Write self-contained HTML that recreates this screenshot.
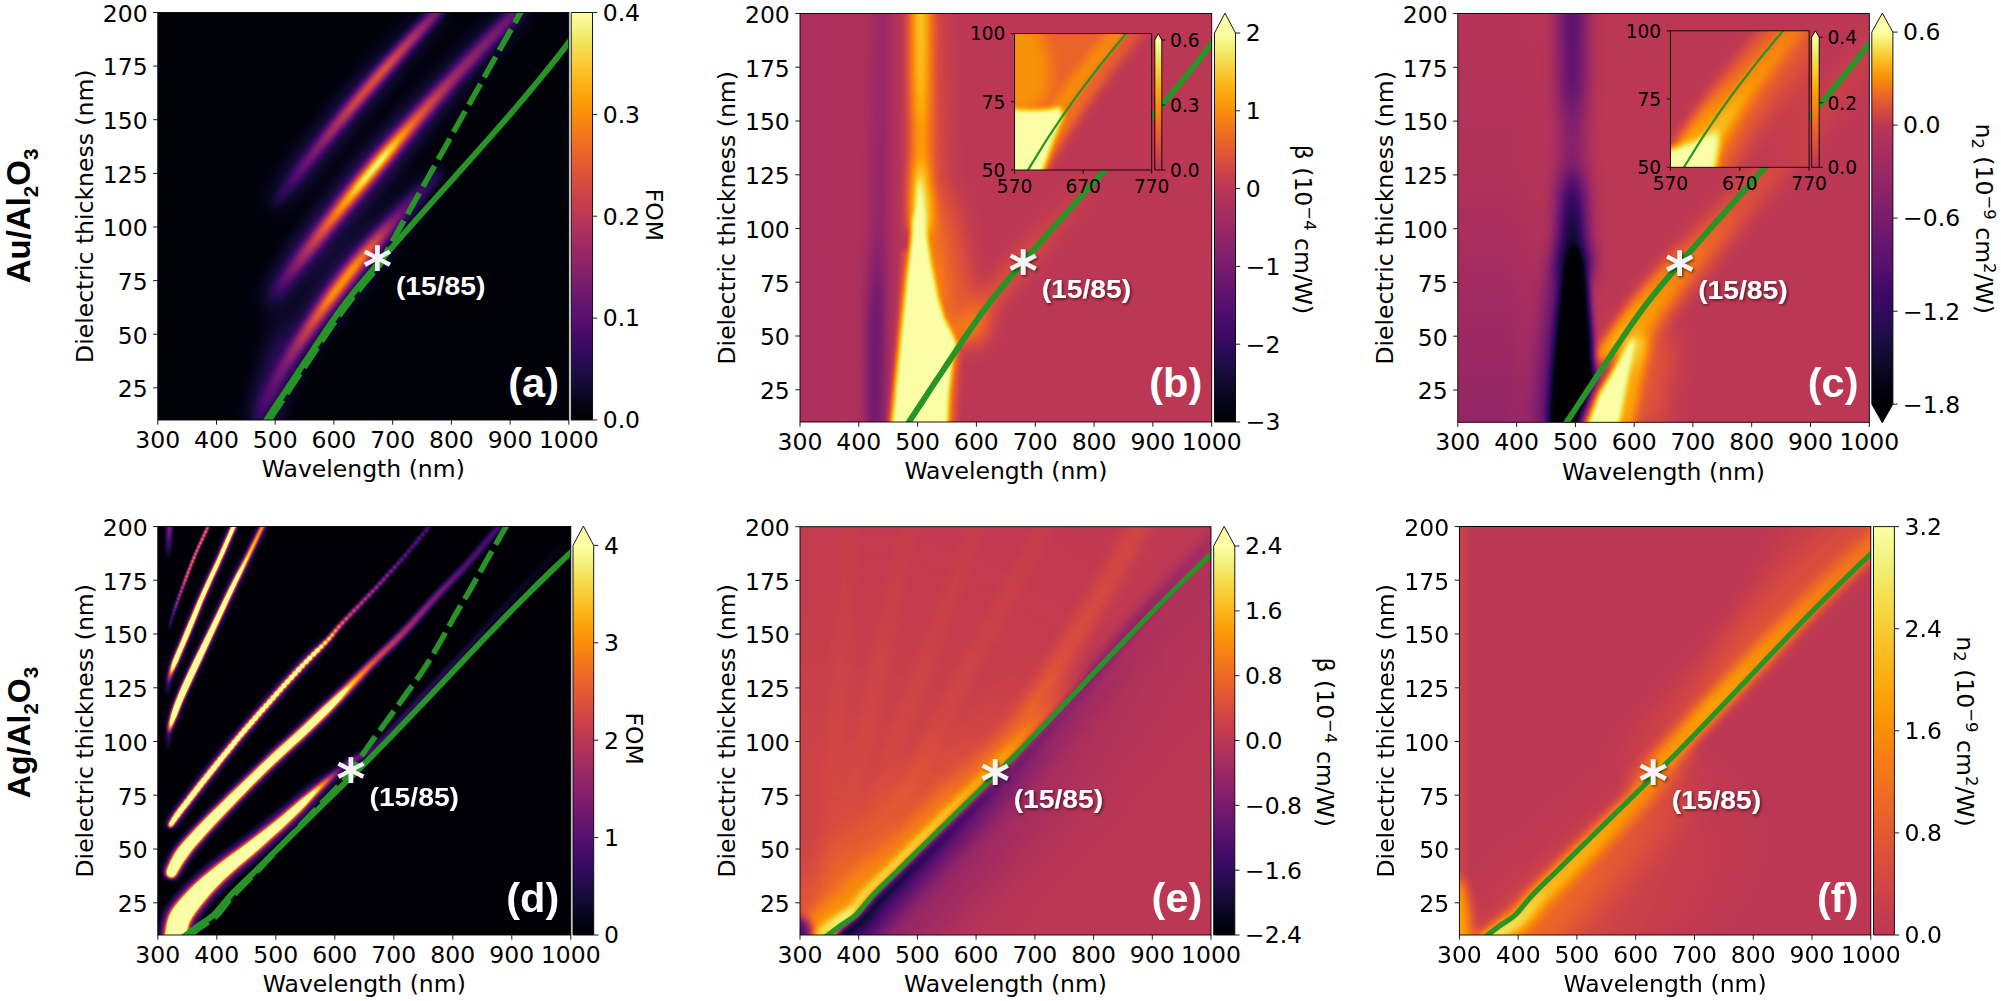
<!DOCTYPE html>
<html><head><meta charset="utf-8"><title>Figure</title>
<style>
html,body{margin:0;padding:0;background:#fff}
svg{display:block}
.t{font-family:"DejaVu Sans","Liberation Sans",sans-serif;font-size:23.5px;fill:#000}
.sup{font-size:16.5px}
.s{font-family:"DejaVu Sans","Liberation Sans",sans-serif;font-size:18.6px;fill:#000}
.b{font-family:"Liberation Sans","DejaVu Sans",sans-serif;font-weight:bold;fill:#fff}
.st{font-family:"DejaVu Sans",sans-serif;font-weight:bold;font-size:56px;fill:#f4f4f4}
.r{font-family:"Liberation Sans","DejaVu Sans",sans-serif;font-weight:bold;fill:#000}
</style></head><body>
<svg width="2001" height="1001" viewBox="0 0 2001 1001">
<defs>
<clipPath id="cla"><rect x="157.8" y="12.5" width="411.0" height="407.5"/></clipPath>
<linearGradient id="lg1" gradientUnits="userSpaceOnUse" x1="522.8" y1="5.0" x2="266.6" y2="305.0"><stop offset="0.000" stop-color="#fff" stop-opacity="0.050"/><stop offset="0.300" stop-color="#fff" stop-opacity="0.080"/><stop offset="0.550" stop-color="#fff" stop-opacity="0.140"/><stop offset="0.850" stop-color="#fff" stop-opacity="0.110"/><stop offset="1.000" stop-color="#fff" stop-opacity="0.040"/></linearGradient>
<linearGradient id="lg2" gradientUnits="userSpaceOnUse" x1="443.6" y1="5.0" x2="269.3" y2="212.0"><stop offset="0.000" stop-color="#fff" stop-opacity="0.040"/><stop offset="0.400" stop-color="#fff" stop-opacity="0.090"/><stop offset="0.800" stop-color="#fff" stop-opacity="0.080"/><stop offset="1.000" stop-color="#fff" stop-opacity="0.030"/></linearGradient>
<linearGradient id="lg3" gradientUnits="userSpaceOnUse" x1="441.8" y1="170.0" x2="251.9" y2="428.0"><stop offset="0.000" stop-color="#fff" stop-opacity="0.020"/><stop offset="0.200" stop-color="#fff" stop-opacity="0.070"/><stop offset="0.450" stop-color="#fff" stop-opacity="0.140"/><stop offset="0.700" stop-color="#fff" stop-opacity="0.080"/><stop offset="1.000" stop-color="#fff" stop-opacity="0.030"/></linearGradient>
<linearGradient id="lg4" gradientUnits="userSpaceOnUse" x1="284.0" y1="280.0" x2="268.0" y2="430.0"><stop offset="0.000" stop-color="#fff" stop-opacity="0.000"/><stop offset="0.400" stop-color="#fff" stop-opacity="0.045"/><stop offset="1.000" stop-color="#fff" stop-opacity="0.060"/></linearGradient>
<linearGradient id="lg5" gradientUnits="userSpaceOnUse" x1="522.8" y1="5.0" x2="266.6" y2="305.0"><stop offset="0.000" stop-color="#fff" stop-opacity="0.140"/><stop offset="0.250" stop-color="#fff" stop-opacity="0.240"/><stop offset="0.420" stop-color="#fff" stop-opacity="0.420"/><stop offset="0.520" stop-color="#fff" stop-opacity="0.620"/><stop offset="0.600" stop-color="#fff" stop-opacity="0.600"/><stop offset="0.720" stop-color="#fff" stop-opacity="0.420"/><stop offset="0.840" stop-color="#fff" stop-opacity="0.220"/><stop offset="0.940" stop-color="#fff" stop-opacity="0.080"/><stop offset="1.000" stop-color="#fff" stop-opacity="0.000"/></linearGradient>
<linearGradient id="lg6" gradientUnits="userSpaceOnUse" x1="443.6" y1="5.0" x2="269.3" y2="212.0"><stop offset="0.000" stop-color="#fff" stop-opacity="0.200"/><stop offset="0.200" stop-color="#fff" stop-opacity="0.360"/><stop offset="0.320" stop-color="#fff" stop-opacity="0.440"/><stop offset="0.500" stop-color="#fff" stop-opacity="0.380"/><stop offset="0.700" stop-color="#fff" stop-opacity="0.200"/><stop offset="0.860" stop-color="#fff" stop-opacity="0.100"/><stop offset="1.000" stop-color="#fff" stop-opacity="0.000"/></linearGradient>
<linearGradient id="lg7" gradientUnits="userSpaceOnUse" x1="441.8" y1="170.0" x2="251.9" y2="428.0"><stop offset="0.000" stop-color="#fff" stop-opacity="0.060"/><stop offset="0.100" stop-color="#fff" stop-opacity="0.100"/><stop offset="0.200" stop-color="#fff" stop-opacity="0.160"/><stop offset="0.300" stop-color="#fff" stop-opacity="0.320"/><stop offset="0.400" stop-color="#fff" stop-opacity="0.460"/><stop offset="0.520" stop-color="#fff" stop-opacity="0.460"/><stop offset="0.660" stop-color="#fff" stop-opacity="0.300"/><stop offset="0.800" stop-color="#fff" stop-opacity="0.120"/><stop offset="1.000" stop-color="#fff" stop-opacity="0.020"/></linearGradient>
<filter id="cma" filterUnits="userSpaceOnUse" x="156.8" y="11.5" width="413.0" height="409.5" color-interpolation-filters="sRGB"><feComponentTransfer><feFuncR type="table" tableValues="0.001 0.014 0.042 0.082 0.129 0.183 0.238 0.291 0.342 0.391 0.441 0.491 0.541 0.591 0.640 0.689 0.736 0.781 0.822 0.861 0.894 0.923 0.947 0.965 0.978 0.986 0.988 0.984 0.975 0.961 0.948 0.955 0.988 0.988 0.988 0.988 0.988 0.988 0.988 0.988 0.988 0.988 0.988 0.988 0.988 0.988 0.988 0.988 0.988 0.988 0.988 0.988 0.988 0.988 0.988 0.988 0.988 0.988 0.988 0.988 0.988 0.988 0.988 0.988 0.988"/><feFuncG type="table" tableValues="0.000 0.011 0.028 0.043 0.047 0.040 0.037 0.046 0.062 0.081 0.099 0.117 0.135 0.153 0.171 0.192 0.216 0.243 0.275 0.312 0.353 0.399 0.449 0.502 0.558 0.616 0.675 0.736 0.798 0.859 0.917 0.966 0.998 0.998 0.998 0.998 0.998 0.998 0.998 0.998 0.998 0.998 0.998 0.998 0.998 0.998 0.998 0.998 0.998 0.998 0.998 0.998 0.998 0.998 0.998 0.998 0.998 0.998 0.998 0.998 0.998 0.998 0.998 0.998 0.998"/><feFuncB type="table" tableValues="0.014 0.072 0.141 0.215 0.291 0.355 0.396 0.419 0.429 0.433 0.432 0.426 0.415 0.400 0.381 0.358 0.330 0.300 0.266 0.231 0.194 0.155 0.115 0.074 0.035 0.026 0.065 0.130 0.206 0.298 0.411 0.540 0.645 0.645 0.645 0.645 0.645 0.645 0.645 0.645 0.645 0.645 0.645 0.645 0.645 0.645 0.645 0.645 0.645 0.645 0.645 0.645 0.645 0.645 0.645 0.645 0.645 0.645 0.645 0.645 0.645 0.645 0.645 0.645 0.645"/></feComponentTransfer></filter>
<clipPath id="cpa"><rect x="157.8" y="12.5" width="411.0" height="407.5"/></clipPath>
<filter id="bla11" filterUnits="userSpaceOnUse" x="122.8" y="-22.5" width="481.0" height="477.5" color-interpolation-filters="sRGB"><feGaussianBlur stdDeviation="11"/></filter>
<filter id="bla5" filterUnits="userSpaceOnUse" x="140.8" y="-4.5" width="445.0" height="441.5" color-interpolation-filters="sRGB"><feGaussianBlur stdDeviation="5"/></filter>
<filter id="bla4_5" filterUnits="userSpaceOnUse" x="142.3" y="-3.0" width="442.0" height="438.5" color-interpolation-filters="sRGB"><feGaussianBlur stdDeviation="4.5"/></filter>
<linearGradient id="cbga" gradientUnits="userSpaceOnUse" x1="0" y1="420.0" x2="0" y2="12.5"><stop offset="0.0000" stop-color="#000004"/><stop offset="0.0417" stop-color="#050417"/><stop offset="0.0833" stop-color="#110a30"/><stop offset="0.1250" stop-color="#210c4a"/><stop offset="0.1667" stop-color="#320a5e"/><stop offset="0.2083" stop-color="#450a69"/><stop offset="0.2500" stop-color="#57106e"/><stop offset="0.2917" stop-color="#67166e"/><stop offset="0.3333" stop-color="#781c6d"/><stop offset="0.3750" stop-color="#8a226a"/><stop offset="0.4167" stop-color="#9a2865"/><stop offset="0.4583" stop-color="#ab2f5e"/><stop offset="0.5000" stop-color="#bc3754"/><stop offset="0.5417" stop-color="#ca404a"/><stop offset="0.5833" stop-color="#d84c3e"/><stop offset="0.6250" stop-color="#e45a31"/><stop offset="0.6667" stop-color="#ed6925"/><stop offset="0.7083" stop-color="#f57b17"/><stop offset="0.7500" stop-color="#f98e09"/><stop offset="0.7917" stop-color="#fca108"/><stop offset="0.8333" stop-color="#fbb61a"/><stop offset="0.8750" stop-color="#f9cb35"/><stop offset="0.9167" stop-color="#f4df53"/><stop offset="0.9583" stop-color="#f2f27d"/><stop offset="1.0000" stop-color="#fcffa4"/></linearGradient>
<clipPath id="clb"><rect x="800.0" y="13.5" width="411.7" height="408.5"/></clipPath>
<linearGradient id="lg8" gradientUnits="userSpaceOnUse" x1="800.0" y1="0.0" x2="935.0" y2="0.0"><stop offset="0.000" stop-color="#000" stop-opacity="0.080"/><stop offset="0.500" stop-color="#000" stop-opacity="0.070"/><stop offset="1.000" stop-color="#000" stop-opacity="0.000"/></linearGradient>
<linearGradient id="lg9" gradientUnits="userSpaceOnUse" x1="882.4" y1="0.0" x2="875.0" y2="440.0"><stop offset="0.000" stop-color="#000" stop-opacity="0.160"/><stop offset="0.500" stop-color="#000" stop-opacity="0.200"/><stop offset="0.720" stop-color="#000" stop-opacity="0.500"/><stop offset="0.900" stop-color="#000" stop-opacity="0.500"/><stop offset="1.000" stop-color="#000" stop-opacity="0.400"/></linearGradient>
<linearGradient id="lg10" gradientUnits="userSpaceOnUse" x1="933.0" y1="0.0" x2="935.0" y2="300.0"><stop offset="0.000" stop-color="#fff" stop-opacity="0.130"/><stop offset="0.500" stop-color="#fff" stop-opacity="0.170"/><stop offset="1.000" stop-color="#fff" stop-opacity="0.200"/></linearGradient>
<linearGradient id="lg11" gradientUnits="userSpaceOnUse" x1="920.5" y1="0.0" x2="920.5" y2="230.0"><stop offset="0.000" stop-color="#fff" stop-opacity="0.820"/><stop offset="0.300" stop-color="#fff" stop-opacity="0.780"/><stop offset="0.450" stop-color="#fff" stop-opacity="0.700"/><stop offset="0.580" stop-color="#fff" stop-opacity="0.600"/><stop offset="0.680" stop-color="#fff" stop-opacity="0.620"/><stop offset="0.780" stop-color="#fff" stop-opacity="0.900"/><stop offset="1.000" stop-color="#fff" stop-opacity="1.000"/></linearGradient>
<linearGradient id="lg12" gradientUnits="userSpaceOnUse" x1="942.0" y1="190.0" x2="977.6" y2="343.2"><stop offset="0.000" stop-color="#fff" stop-opacity="0.100"/><stop offset="0.300" stop-color="#fff" stop-opacity="0.220"/><stop offset="1.000" stop-color="#fff" stop-opacity="0.300"/></linearGradient>
<linearGradient id="lg13" gradientUnits="userSpaceOnUse" x1="963.8" y1="336.0" x2="1098.6" y2="174.8"><stop offset="0.000" stop-color="#fff" stop-opacity="0.300"/><stop offset="0.400" stop-color="#fff" stop-opacity="0.200"/><stop offset="0.700" stop-color="#fff" stop-opacity="0.100"/><stop offset="1.000" stop-color="#fff" stop-opacity="0.030"/></linearGradient>
<filter id="cmb" filterUnits="userSpaceOnUse" x="799.0" y="12.5" width="413.7" height="410.5" color-interpolation-filters="sRGB"><feComponentTransfer><feFuncR type="table" tableValues="0.001 0.006 0.014 0.026 0.042 0.061 0.082 0.105 0.129 0.156 0.183 0.211 0.238 0.265 0.291 0.316 0.342 0.367 0.391 0.416 0.441 0.466 0.491 0.516 0.541 0.566 0.591 0.616 0.640 0.665 0.689 0.712 0.736 0.758 0.781 0.802 0.822 0.842 0.861 0.878 0.894 0.909 0.923 0.936 0.947 0.957 0.965 0.973 0.978 0.983 0.986 0.988 0.988 0.987 0.984 0.980 0.975 0.968 0.961 0.953 0.948 0.947 0.955 0.971 0.988"/><feFuncG type="table" tableValues="0.000 0.005 0.011 0.019 0.028 0.037 0.043 0.047 0.047 0.045 0.040 0.037 0.037 0.040 0.046 0.053 0.062 0.072 0.081 0.090 0.099 0.108 0.117 0.126 0.135 0.144 0.153 0.162 0.171 0.182 0.192 0.204 0.216 0.229 0.243 0.259 0.275 0.293 0.312 0.332 0.353 0.376 0.399 0.424 0.449 0.475 0.502 0.530 0.558 0.587 0.616 0.645 0.675 0.706 0.736 0.767 0.798 0.829 0.859 0.889 0.917 0.943 0.966 0.985 0.998"/><feFuncB type="table" tableValues="0.014 0.039 0.072 0.106 0.141 0.178 0.215 0.253 0.291 0.325 0.355 0.379 0.396 0.409 0.419 0.425 0.429 0.432 0.433 0.433 0.432 0.429 0.426 0.421 0.415 0.408 0.400 0.391 0.381 0.370 0.358 0.344 0.330 0.315 0.300 0.283 0.266 0.249 0.231 0.212 0.194 0.175 0.155 0.135 0.115 0.095 0.074 0.053 0.035 0.025 0.026 0.040 0.065 0.096 0.130 0.166 0.206 0.250 0.298 0.351 0.411 0.475 0.540 0.602 0.645"/></feComponentTransfer></filter>
<clipPath id="cpb"><rect x="800.0" y="13.5" width="411.7" height="408.5"/></clipPath>
<filter id="blb7" filterUnits="userSpaceOnUse" x="777.0" y="-9.5" width="457.7" height="454.5" color-interpolation-filters="sRGB"><feGaussianBlur stdDeviation="7"/></filter>
<filter id="blb10" filterUnits="userSpaceOnUse" x="768.0" y="-18.5" width="475.7" height="472.5" color-interpolation-filters="sRGB"><feGaussianBlur stdDeviation="10"/></filter>
<filter id="blb6_5" filterUnits="userSpaceOnUse" x="778.5" y="-8.0" width="454.7" height="451.5" color-interpolation-filters="sRGB"><feGaussianBlur stdDeviation="6.5"/></filter>
<filter id="blb11" filterUnits="userSpaceOnUse" x="765.0" y="-21.5" width="481.7" height="478.5" color-interpolation-filters="sRGB"><feGaussianBlur stdDeviation="11"/></filter>
<filter id="blb9" filterUnits="userSpaceOnUse" x="771.0" y="-15.5" width="469.7" height="466.5" color-interpolation-filters="sRGB"><feGaussianBlur stdDeviation="9"/></filter>
<filter id="blb4" filterUnits="userSpaceOnUse" x="786.0" y="-0.5" width="439.7" height="436.5" color-interpolation-filters="sRGB"><feGaussianBlur stdDeviation="4"/></filter>
<filter id="blb2_5" filterUnits="userSpaceOnUse" x="790.5" y="4.0" width="430.7" height="427.5" color-interpolation-filters="sRGB"><feGaussianBlur stdDeviation="2.5"/></filter>
<filter id="blb2_2" filterUnits="userSpaceOnUse" x="791.4" y="4.9" width="428.9" height="425.7" color-interpolation-filters="sRGB"><feGaussianBlur stdDeviation="2.2"/></filter>
<linearGradient id="cbgb" gradientUnits="userSpaceOnUse" x1="0" y1="422.0" x2="0" y2="33.0"><stop offset="0.0000" stop-color="#000004"/><stop offset="0.0429" stop-color="#040314"/><stop offset="0.0857" stop-color="#0d0829"/><stop offset="0.1286" stop-color="#190c3e"/><stop offset="0.1714" stop-color="#280b53"/><stop offset="0.2143" stop-color="#380962"/><stop offset="0.2571" stop-color="#470b6a"/><stop offset="0.3000" stop-color="#57106e"/><stop offset="0.3429" stop-color="#65156e"/><stop offset="0.3857" stop-color="#741a6e"/><stop offset="0.4286" stop-color="#82206c"/><stop offset="0.4714" stop-color="#902568"/><stop offset="0.5143" stop-color="#9f2a63"/><stop offset="0.5571" stop-color="#ad305d"/><stop offset="0.6000" stop-color="#bc3754"/><stop offset="0.6000" stop-color="#bc3754"/><stop offset="0.6400" stop-color="#cc4248"/><stop offset="0.6800" stop-color="#dd513a"/><stop offset="0.7200" stop-color="#ea632a"/><stop offset="0.7600" stop-color="#f37819"/><stop offset="0.8000" stop-color="#f98e09"/><stop offset="0.8400" stop-color="#fca50a"/><stop offset="0.8800" stop-color="#fbbe23"/><stop offset="0.9200" stop-color="#f6d746"/><stop offset="0.9600" stop-color="#f1ef75"/><stop offset="1.0000" stop-color="#fcffa4"/></linearGradient>
<clipPath id="clc"><rect x="1457.8" y="13.5" width="411.5" height="408.8"/></clipPath>
<linearGradient id="lg14" gradientUnits="userSpaceOnUse" x1="0.0" y1="13.5" x2="0.0" y2="422.3"><stop offset="0.000" stop-color="#000" stop-opacity="0.030"/><stop offset="0.400" stop-color="#000" stop-opacity="0.060"/><stop offset="0.700" stop-color="#000" stop-opacity="0.140"/><stop offset="1.000" stop-color="#000" stop-opacity="0.200"/></linearGradient>
<linearGradient id="lg15" gradientUnits="userSpaceOnUse" x1="1507.8" y1="0.0" x2="1582.8" y2="0.0"><stop offset="0.000" stop-color="#808080" stop-opacity="0.000"/><stop offset="1.000" stop-color="#808080" stop-opacity="1.000"/></linearGradient>
<linearGradient id="lg16" gradientUnits="userSpaceOnUse" x1="1572.5" y1="0.0" x2="1572.5" y2="280.0"><stop offset="0.000" stop-color="#000" stop-opacity="0.560"/><stop offset="0.300" stop-color="#000" stop-opacity="0.520"/><stop offset="0.450" stop-color="#000" stop-opacity="0.320"/><stop offset="0.580" stop-color="#000" stop-opacity="0.300"/><stop offset="0.680" stop-color="#000" stop-opacity="0.700"/><stop offset="0.800" stop-color="#000" stop-opacity="0.950"/><stop offset="1.000" stop-color="#000" stop-opacity="1.000"/></linearGradient>
<linearGradient id="lg17" gradientUnits="userSpaceOnUse" x1="1616.3" y1="359.8" x2="1894.1" y2="15.5"><stop offset="0.000" stop-color="#fff" stop-opacity="0.750"/><stop offset="0.180" stop-color="#fff" stop-opacity="0.600"/><stop offset="0.300" stop-color="#fff" stop-opacity="0.420"/><stop offset="0.450" stop-color="#fff" stop-opacity="0.220"/><stop offset="0.700" stop-color="#fff" stop-opacity="0.100"/><stop offset="1.000" stop-color="#fff" stop-opacity="0.040"/></linearGradient>
<linearGradient id="lg18" gradientUnits="userSpaceOnUse" x1="1599.5" y1="359.1" x2="1684.4" y2="247.2"><stop offset="0.000" stop-color="#fff" stop-opacity="0.600"/><stop offset="0.500" stop-color="#fff" stop-opacity="0.340"/><stop offset="1.000" stop-color="#fff" stop-opacity="0.080"/></linearGradient>
<filter id="cmc" filterUnits="userSpaceOnUse" x="1456.8" y="12.5" width="413.5" height="410.8" color-interpolation-filters="sRGB"><feComponentTransfer><feFuncR type="table" tableValues="0.001 0.006 0.014 0.026 0.042 0.061 0.082 0.105 0.129 0.156 0.183 0.211 0.238 0.265 0.291 0.316 0.342 0.367 0.391 0.416 0.441 0.466 0.491 0.516 0.541 0.566 0.591 0.616 0.640 0.665 0.689 0.712 0.736 0.758 0.781 0.802 0.822 0.842 0.861 0.878 0.894 0.909 0.923 0.936 0.947 0.957 0.965 0.973 0.978 0.983 0.986 0.988 0.988 0.987 0.984 0.980 0.975 0.968 0.961 0.953 0.948 0.947 0.955 0.971 0.988"/><feFuncG type="table" tableValues="0.000 0.005 0.011 0.019 0.028 0.037 0.043 0.047 0.047 0.045 0.040 0.037 0.037 0.040 0.046 0.053 0.062 0.072 0.081 0.090 0.099 0.108 0.117 0.126 0.135 0.144 0.153 0.162 0.171 0.182 0.192 0.204 0.216 0.229 0.243 0.259 0.275 0.293 0.312 0.332 0.353 0.376 0.399 0.424 0.449 0.475 0.502 0.530 0.558 0.587 0.616 0.645 0.675 0.706 0.736 0.767 0.798 0.829 0.859 0.889 0.917 0.943 0.966 0.985 0.998"/><feFuncB type="table" tableValues="0.014 0.039 0.072 0.106 0.141 0.178 0.215 0.253 0.291 0.325 0.355 0.379 0.396 0.409 0.419 0.425 0.429 0.432 0.433 0.433 0.432 0.429 0.426 0.421 0.415 0.408 0.400 0.391 0.381 0.370 0.358 0.344 0.330 0.315 0.300 0.283 0.266 0.249 0.231 0.212 0.194 0.175 0.155 0.135 0.115 0.095 0.074 0.053 0.035 0.025 0.026 0.040 0.065 0.096 0.130 0.166 0.206 0.250 0.298 0.351 0.411 0.475 0.540 0.602 0.645"/></feComponentTransfer></filter>
<clipPath id="cpc"><rect x="1457.8" y="13.5" width="411.5" height="408.8"/></clipPath>
<filter id="blc9" filterUnits="userSpaceOnUse" x="1428.8" y="-15.5" width="469.5" height="466.8" color-interpolation-filters="sRGB"><feGaussianBlur stdDeviation="9"/></filter>
<filter id="blc10" filterUnits="userSpaceOnUse" x="1425.8" y="-18.5" width="475.5" height="472.8" color-interpolation-filters="sRGB"><feGaussianBlur stdDeviation="10"/></filter>
<filter id="blc5" filterUnits="userSpaceOnUse" x="1440.8" y="-3.5" width="445.5" height="442.8" color-interpolation-filters="sRGB"><feGaussianBlur stdDeviation="5"/></filter>
<filter id="blc6" filterUnits="userSpaceOnUse" x="1437.8" y="-6.5" width="451.5" height="448.8" color-interpolation-filters="sRGB"><feGaussianBlur stdDeviation="6"/></filter>
<filter id="blc14" filterUnits="userSpaceOnUse" x="1413.8" y="-30.5" width="499.5" height="496.8" color-interpolation-filters="sRGB"><feGaussianBlur stdDeviation="14"/></filter>
<filter id="blc3" filterUnits="userSpaceOnUse" x="1446.8" y="2.5" width="433.5" height="430.8" color-interpolation-filters="sRGB"><feGaussianBlur stdDeviation="3"/></filter>
<filter id="blc2_5" filterUnits="userSpaceOnUse" x="1448.3" y="4.0" width="430.5" height="427.8" color-interpolation-filters="sRGB"><feGaussianBlur stdDeviation="2.5"/></filter>
<linearGradient id="cbgc" gradientUnits="userSpaceOnUse" x1="0" y1="404.2" x2="0" y2="32.1"><stop offset="0.0000" stop-color="#000004"/><stop offset="0.0417" stop-color="#030210"/><stop offset="0.0833" stop-color="#09061f"/><stop offset="0.1250" stop-color="#110a30"/><stop offset="0.1667" stop-color="#1b0c41"/><stop offset="0.2083" stop-color="#260c51"/><stop offset="0.2500" stop-color="#320a5e"/><stop offset="0.2917" stop-color="#3e0966"/><stop offset="0.3333" stop-color="#4a0c6b"/><stop offset="0.3750" stop-color="#57106e"/><stop offset="0.4167" stop-color="#62146e"/><stop offset="0.4583" stop-color="#6d186e"/><stop offset="0.5000" stop-color="#781c6d"/><stop offset="0.5417" stop-color="#84206b"/><stop offset="0.5833" stop-color="#8f2469"/><stop offset="0.6250" stop-color="#9a2865"/><stop offset="0.6667" stop-color="#a52c60"/><stop offset="0.7083" stop-color="#b0315b"/><stop offset="0.7500" stop-color="#bc3754"/><stop offset="0.7500" stop-color="#bc3754"/><stop offset="0.7917" stop-color="#d84c3e"/><stop offset="0.8333" stop-color="#ed6925"/><stop offset="0.8750" stop-color="#f98e09"/><stop offset="0.9167" stop-color="#fbb61a"/><stop offset="0.9583" stop-color="#f4df53"/><stop offset="1.0000" stop-color="#fcffa4"/></linearGradient>
<clipPath id="cld"><rect x="157.8" y="526.5" width="413.0" height="408.5"/></clipPath>
<linearGradient id="lg19" gradientUnits="userSpaceOnUse" x1="235.0" y1="524.0" x2="168.0" y2="684.8"><stop offset="0.000" stop-color="#fff" stop-opacity="0.160"/><stop offset="0.850" stop-color="#fff" stop-opacity="0.180"/><stop offset="1.000" stop-color="#fff" stop-opacity="0.020"/></linearGradient>
<linearGradient id="lg20" gradientUnits="userSpaceOnUse" x1="263.7" y1="524.0" x2="168.8" y2="732.7"><stop offset="0.000" stop-color="#fff" stop-opacity="0.100"/><stop offset="0.300" stop-color="#fff" stop-opacity="0.180"/><stop offset="0.900" stop-color="#fff" stop-opacity="0.200"/><stop offset="1.000" stop-color="#fff" stop-opacity="0.030"/></linearGradient>
<linearGradient id="lg21" gradientUnits="userSpaceOnUse" x1="431.5" y1="524.0" x2="169.6" y2="826.4"><stop offset="0.000" stop-color="#fff" stop-opacity="0.000"/><stop offset="0.360" stop-color="#fff" stop-opacity="0.030"/><stop offset="0.450" stop-color="#fff" stop-opacity="0.200"/><stop offset="1.000" stop-color="#fff" stop-opacity="0.220"/></linearGradient>
<linearGradient id="lg22" gradientUnits="userSpaceOnUse" x1="499.7" y1="526.0" x2="169.6" y2="875.9"><stop offset="0.000" stop-color="#fff" stop-opacity="0.000"/><stop offset="0.400" stop-color="#fff" stop-opacity="0.030"/><stop offset="0.550" stop-color="#fff" stop-opacity="0.260"/><stop offset="1.000" stop-color="#fff" stop-opacity="0.280"/></linearGradient>
<linearGradient id="lg23" gradientUnits="userSpaceOnUse" x1="345.0" y1="765.0" x2="174.0" y2="946.0"><stop offset="0.000" stop-color="#fff" stop-opacity="0.000"/><stop offset="0.100" stop-color="#fff" stop-opacity="0.120"/><stop offset="0.250" stop-color="#fff" stop-opacity="0.260"/><stop offset="1.000" stop-color="#fff" stop-opacity="0.280"/></linearGradient>
<linearGradient id="lg24" gradientUnits="userSpaceOnUse" x1="169.6" y1="525.0" x2="167.8" y2="562.0"><stop offset="0.000" stop-color="#fff" stop-opacity="0.400"/><stop offset="1.000" stop-color="#fff" stop-opacity="0.000"/></linearGradient>
<linearGradient id="lg25" gradientUnits="userSpaceOnUse" x1="168.8" y1="732.7" x2="168.0" y2="752.0"><stop offset="0.000" stop-color="#fff" stop-opacity="0.250"/><stop offset="1.000" stop-color="#fff" stop-opacity="0.000"/></linearGradient>
<linearGradient id="lg26" gradientUnits="userSpaceOnUse" x1="168.0" y1="684.0" x2="167.5" y2="700.0"><stop offset="0.000" stop-color="#fff" stop-opacity="0.200"/><stop offset="1.000" stop-color="#fff" stop-opacity="0.000"/></linearGradient>
<linearGradient id="lg27" gradientUnits="userSpaceOnUse" x1="345.0" y1="765.0" x2="560.0" y2="548.0"><stop offset="0.000" stop-color="#fff" stop-opacity="0.280"/><stop offset="0.120" stop-color="#fff" stop-opacity="0.140"/><stop offset="0.500" stop-color="#fff" stop-opacity="0.080"/><stop offset="1.000" stop-color="#fff" stop-opacity="0.030"/></linearGradient>
<linearGradient id="lg28" gradientUnits="userSpaceOnUse" x1="499.7" y1="526.0" x2="305.5" y2="729.5"><stop offset="0.000" stop-color="#fff" stop-opacity="0.070"/><stop offset="0.300" stop-color="#fff" stop-opacity="0.090"/><stop offset="0.600" stop-color="#fff" stop-opacity="0.130"/><stop offset="0.850" stop-color="#fff" stop-opacity="0.150"/><stop offset="1.000" stop-color="#fff" stop-opacity="0.000"/></linearGradient>
<linearGradient id="lg29" gradientUnits="userSpaceOnUse" x1="209.0" y1="524.0" x2="168.6" y2="630.3"><stop offset="0.000" stop-color="#fff" stop-opacity="0.850"/><stop offset="0.500" stop-color="#fff" stop-opacity="0.800"/><stop offset="0.800" stop-color="#fff" stop-opacity="0.400"/><stop offset="1.000" stop-color="#fff" stop-opacity="0.080"/></linearGradient>
<linearGradient id="lg30" gradientUnits="userSpaceOnUse" x1="235.0" y1="524.0" x2="168.0" y2="684.8"><stop offset="0.000" stop-color="#fff" stop-opacity="1.000"/><stop offset="0.860" stop-color="#fff" stop-opacity="1.000"/><stop offset="0.940" stop-color="#fff" stop-opacity="0.400"/><stop offset="1.000" stop-color="#fff" stop-opacity="0.120"/></linearGradient>
<linearGradient id="lg31" gradientUnits="userSpaceOnUse" x1="263.7" y1="524.0" x2="168.8" y2="732.7"><stop offset="0.000" stop-color="#fff" stop-opacity="0.500"/><stop offset="0.150" stop-color="#fff" stop-opacity="0.600"/><stop offset="0.300" stop-color="#fff" stop-opacity="1.000"/><stop offset="0.920" stop-color="#fff" stop-opacity="1.000"/><stop offset="1.000" stop-color="#fff" stop-opacity="0.250"/></linearGradient>
<linearGradient id="lg32" gradientUnits="userSpaceOnUse" x1="431.5" y1="524.0" x2="169.6" y2="826.4"><stop offset="0.000" stop-color="#fff" stop-opacity="0.200"/><stop offset="0.120" stop-color="#fff" stop-opacity="0.240"/><stop offset="0.220" stop-color="#fff" stop-opacity="0.340"/><stop offset="0.300" stop-color="#fff" stop-opacity="0.450"/><stop offset="0.360" stop-color="#fff" stop-opacity="0.620"/><stop offset="0.430" stop-color="#fff" stop-opacity="1.000"/><stop offset="1.000" stop-color="#fff" stop-opacity="1.000"/></linearGradient>
<linearGradient id="lg33" gradientUnits="userSpaceOnUse" x1="499.7" y1="526.0" x2="169.6" y2="875.9"><stop offset="0.000" stop-color="#fff" stop-opacity="0.080"/><stop offset="0.120" stop-color="#fff" stop-opacity="0.100"/><stop offset="0.220" stop-color="#fff" stop-opacity="0.140"/><stop offset="0.300" stop-color="#fff" stop-opacity="0.200"/><stop offset="0.380" stop-color="#fff" stop-opacity="0.280"/><stop offset="0.460" stop-color="#fff" stop-opacity="0.450"/><stop offset="0.530" stop-color="#fff" stop-opacity="1.000"/><stop offset="1.000" stop-color="#fff" stop-opacity="1.000"/></linearGradient>
<linearGradient id="lg34" gradientUnits="userSpaceOnUse" x1="345.0" y1="765.0" x2="174.0" y2="946.0"><stop offset="0.000" stop-color="#fff" stop-opacity="0.220"/><stop offset="0.060" stop-color="#fff" stop-opacity="0.400"/><stop offset="0.130" stop-color="#fff" stop-opacity="0.620"/><stop offset="0.220" stop-color="#fff" stop-opacity="1.000"/><stop offset="1.000" stop-color="#fff" stop-opacity="1.000"/></linearGradient>
<linearGradient id="lg35" gradientUnits="userSpaceOnUse" x1="431.5" y1="524.0" x2="169.6" y2="826.4"><stop offset="0.000" stop-color="#000" stop-opacity="0.700"/><stop offset="0.600" stop-color="#000" stop-opacity="0.600"/><stop offset="0.850" stop-color="#000" stop-opacity="0.450"/><stop offset="1.000" stop-color="#000" stop-opacity="0.300"/></linearGradient>
<filter id="cmd" filterUnits="userSpaceOnUse" x="156.8" y="525.5" width="415.0" height="410.5" color-interpolation-filters="sRGB"><feComponentTransfer><feFuncR type="table" tableValues="0.001 0.014 0.042 0.082 0.129 0.183 0.238 0.291 0.342 0.391 0.441 0.491 0.541 0.591 0.640 0.689 0.736 0.781 0.822 0.861 0.894 0.923 0.947 0.965 0.978 0.986 0.988 0.984 0.975 0.961 0.948 0.955 0.988 0.988 0.988 0.988 0.988 0.988 0.988 0.988 0.988 0.988 0.988 0.988 0.988 0.988 0.988 0.988 0.988 0.988 0.988 0.988 0.988 0.988 0.988 0.988 0.988 0.988 0.988 0.988 0.988 0.988 0.988 0.988 0.988"/><feFuncG type="table" tableValues="0.000 0.011 0.028 0.043 0.047 0.040 0.037 0.046 0.062 0.081 0.099 0.117 0.135 0.153 0.171 0.192 0.216 0.243 0.275 0.312 0.353 0.399 0.449 0.502 0.558 0.616 0.675 0.736 0.798 0.859 0.917 0.966 0.998 0.998 0.998 0.998 0.998 0.998 0.998 0.998 0.998 0.998 0.998 0.998 0.998 0.998 0.998 0.998 0.998 0.998 0.998 0.998 0.998 0.998 0.998 0.998 0.998 0.998 0.998 0.998 0.998 0.998 0.998 0.998 0.998"/><feFuncB type="table" tableValues="0.014 0.072 0.141 0.215 0.291 0.355 0.396 0.419 0.429 0.433 0.432 0.426 0.415 0.400 0.381 0.358 0.330 0.300 0.266 0.231 0.194 0.155 0.115 0.074 0.035 0.026 0.065 0.130 0.206 0.298 0.411 0.540 0.645 0.645 0.645 0.645 0.645 0.645 0.645 0.645 0.645 0.645 0.645 0.645 0.645 0.645 0.645 0.645 0.645 0.645 0.645 0.645 0.645 0.645 0.645 0.645 0.645 0.645 0.645 0.645 0.645 0.645 0.645 0.645 0.645"/></feComponentTransfer></filter>
<clipPath id="cpd"><rect x="157.8" y="526.5" width="413.0" height="408.5"/></clipPath>
<filter id="bld3" filterUnits="userSpaceOnUse" x="146.8" y="515.5" width="435.0" height="430.5" color-interpolation-filters="sRGB"><feGaussianBlur stdDeviation="3"/></filter>
<filter id="bld3_5" filterUnits="userSpaceOnUse" x="145.3" y="514.0" width="438.0" height="433.5" color-interpolation-filters="sRGB"><feGaussianBlur stdDeviation="3.5"/></filter>
<filter id="bld4_5" filterUnits="userSpaceOnUse" x="142.3" y="511.0" width="444.0" height="439.5" color-interpolation-filters="sRGB"><feGaussianBlur stdDeviation="4.5"/></filter>
<filter id="bld2" filterUnits="userSpaceOnUse" x="149.8" y="518.5" width="429.0" height="424.5" color-interpolation-filters="sRGB"><feGaussianBlur stdDeviation="2"/></filter>
<filter id="bld2_6" filterUnits="userSpaceOnUse" x="148.0" y="516.7" width="432.6" height="428.1" color-interpolation-filters="sRGB"><feGaussianBlur stdDeviation="2.6"/></filter>
<filter id="bld2_8" filterUnits="userSpaceOnUse" x="147.4" y="516.1" width="433.8" height="429.3" color-interpolation-filters="sRGB"><feGaussianBlur stdDeviation="2.8"/></filter>
<filter id="bld0_9" filterUnits="userSpaceOnUse" x="153.1" y="521.8" width="422.4" height="417.9" color-interpolation-filters="sRGB"><feGaussianBlur stdDeviation="0.9"/></filter>
<filter id="bld1_6" filterUnits="userSpaceOnUse" x="151.0" y="519.7" width="426.6" height="422.1" color-interpolation-filters="sRGB"><feGaussianBlur stdDeviation="1.6"/></filter>
<filter id="bld1_7" filterUnits="userSpaceOnUse" x="150.7" y="519.4" width="427.2" height="422.7" color-interpolation-filters="sRGB"><feGaussianBlur stdDeviation="1.7"/></filter>
<filter id="bld1_5" filterUnits="userSpaceOnUse" x="151.3" y="520.0" width="426.0" height="421.5" color-interpolation-filters="sRGB"><feGaussianBlur stdDeviation="1.5"/></filter>
<filter id="bld2_0" filterUnits="userSpaceOnUse" x="149.8" y="518.5" width="429.0" height="424.5" color-interpolation-filters="sRGB"><feGaussianBlur stdDeviation="2.0"/></filter>
<filter id="bld0_8" filterUnits="userSpaceOnUse" x="153.4" y="522.1" width="421.8" height="417.3" color-interpolation-filters="sRGB"><feGaussianBlur stdDeviation="0.8"/></filter>
<linearGradient id="cbgd" gradientUnits="userSpaceOnUse" x1="0" y1="935.0" x2="0" y2="545.4"><stop offset="0.0000" stop-color="#000004"/><stop offset="0.0417" stop-color="#050417"/><stop offset="0.0833" stop-color="#110a30"/><stop offset="0.1250" stop-color="#210c4a"/><stop offset="0.1667" stop-color="#320a5e"/><stop offset="0.2083" stop-color="#450a69"/><stop offset="0.2500" stop-color="#57106e"/><stop offset="0.2917" stop-color="#67166e"/><stop offset="0.3333" stop-color="#781c6d"/><stop offset="0.3750" stop-color="#8a226a"/><stop offset="0.4167" stop-color="#9a2865"/><stop offset="0.4583" stop-color="#ab2f5e"/><stop offset="0.5000" stop-color="#bc3754"/><stop offset="0.5417" stop-color="#ca404a"/><stop offset="0.5833" stop-color="#d84c3e"/><stop offset="0.6250" stop-color="#e45a31"/><stop offset="0.6667" stop-color="#ed6925"/><stop offset="0.7083" stop-color="#f57b17"/><stop offset="0.7500" stop-color="#f98e09"/><stop offset="0.7917" stop-color="#fca108"/><stop offset="0.8333" stop-color="#fbb61a"/><stop offset="0.8750" stop-color="#f9cb35"/><stop offset="0.9167" stop-color="#f4df53"/><stop offset="0.9583" stop-color="#f2f27d"/><stop offset="1.0000" stop-color="#fcffa4"/></linearGradient>
<clipPath id="cle"><rect x="800.0" y="526.7" width="411.0" height="408.3"/></clipPath>
<radialGradient id="rg36" gradientUnits="userSpaceOnUse" cx="822.0" cy="943.0" r="520.0"><stop offset="0.000" stop-color="#fff" stop-opacity="0.120"/><stop offset="0.350" stop-color="#fff" stop-opacity="0.100"/><stop offset="0.650" stop-color="#fff" stop-opacity="0.050"/><stop offset="1.000" stop-color="#fff" stop-opacity="0.020"/></radialGradient>
<linearGradient id="lg37" gradientUnits="userSpaceOnUse" x1="822.0" y1="943.0" x2="852.0" y2="516.7"><stop offset="0.000" stop-color="#fff" stop-opacity="0.000"/><stop offset="0.150" stop-color="#fff" stop-opacity="0.065"/><stop offset="0.600" stop-color="#fff" stop-opacity="0.050"/><stop offset="1.000" stop-color="#fff" stop-opacity="0.030"/></linearGradient>
<linearGradient id="lg38" gradientUnits="userSpaceOnUse" x1="822.0" y1="943.0" x2="910.0" y2="516.7"><stop offset="0.000" stop-color="#fff" stop-opacity="0.000"/><stop offset="0.150" stop-color="#fff" stop-opacity="0.078"/><stop offset="0.600" stop-color="#fff" stop-opacity="0.060"/><stop offset="1.000" stop-color="#fff" stop-opacity="0.036"/></linearGradient>
<linearGradient id="lg39" gradientUnits="userSpaceOnUse" x1="822.0" y1="943.0" x2="980.0" y2="516.7"><stop offset="0.000" stop-color="#fff" stop-opacity="0.000"/><stop offset="0.150" stop-color="#fff" stop-opacity="0.078"/><stop offset="0.600" stop-color="#fff" stop-opacity="0.060"/><stop offset="1.000" stop-color="#fff" stop-opacity="0.036"/></linearGradient>
<linearGradient id="lg40" gradientUnits="userSpaceOnUse" x1="822.0" y1="943.0" x2="1050.0" y2="516.7"><stop offset="0.000" stop-color="#fff" stop-opacity="0.000"/><stop offset="0.150" stop-color="#fff" stop-opacity="0.091"/><stop offset="0.600" stop-color="#fff" stop-opacity="0.070"/><stop offset="1.000" stop-color="#fff" stop-opacity="0.042"/></linearGradient>
<linearGradient id="lg41" gradientUnits="userSpaceOnUse" x1="1254.4" y1="515.0" x2="816.2" y2="944.0"><stop offset="0.000" stop-color="#000" stop-opacity="0.020"/><stop offset="0.300" stop-color="#000" stop-opacity="0.040"/><stop offset="0.500" stop-color="#000" stop-opacity="0.090"/><stop offset="0.700" stop-color="#000" stop-opacity="0.170"/><stop offset="1.000" stop-color="#000" stop-opacity="0.250"/></linearGradient>
<linearGradient id="lg42" gradientUnits="userSpaceOnUse" x1="1254.4" y1="515.0" x2="816.2" y2="944.0"><stop offset="0.000" stop-color="#000" stop-opacity="0.020"/><stop offset="0.300" stop-color="#000" stop-opacity="0.050"/><stop offset="0.500" stop-color="#000" stop-opacity="0.140"/><stop offset="0.750" stop-color="#000" stop-opacity="0.400"/><stop offset="1.000" stop-color="#000" stop-opacity="0.600"/></linearGradient>
<linearGradient id="lg43" gradientUnits="userSpaceOnUse" x1="1254.4" y1="515.0" x2="816.2" y2="944.0"><stop offset="0.000" stop-color="#000" stop-opacity="0.040"/><stop offset="0.120" stop-color="#000" stop-opacity="0.140"/><stop offset="0.300" stop-color="#000" stop-opacity="0.240"/><stop offset="0.450" stop-color="#000" stop-opacity="0.220"/><stop offset="0.600" stop-color="#000" stop-opacity="0.360"/><stop offset="0.750" stop-color="#000" stop-opacity="0.700"/><stop offset="0.880" stop-color="#000" stop-opacity="1.000"/><stop offset="1.000" stop-color="#000" stop-opacity="1.000"/></linearGradient>
<linearGradient id="lg44" gradientUnits="userSpaceOnUse" x1="1096.7" y1="670.0" x2="816.2" y2="944.0"><stop offset="0.000" stop-color="#fff" stop-opacity="0.000"/><stop offset="0.250" stop-color="#fff" stop-opacity="0.060"/><stop offset="0.500" stop-color="#fff" stop-opacity="0.150"/><stop offset="1.000" stop-color="#fff" stop-opacity="0.180"/></linearGradient>
<linearGradient id="lg45" gradientUnits="userSpaceOnUse" x1="1096.7" y1="670.0" x2="816.2" y2="944.0"><stop offset="0.000" stop-color="#fff" stop-opacity="0.000"/><stop offset="0.250" stop-color="#fff" stop-opacity="0.140"/><stop offset="0.500" stop-color="#fff" stop-opacity="0.320"/><stop offset="1.000" stop-color="#fff" stop-opacity="0.420"/></linearGradient>
<linearGradient id="lg46" gradientUnits="userSpaceOnUse" x1="1146.0" y1="515.0" x2="985.0" y2="778.0"><stop offset="0.000" stop-color="#fff" stop-opacity="0.130"/><stop offset="0.400" stop-color="#fff" stop-opacity="0.160"/><stop offset="0.750" stop-color="#fff" stop-opacity="0.250"/><stop offset="1.000" stop-color="#fff" stop-opacity="0.200"/></linearGradient>
<linearGradient id="lg47" gradientUnits="userSpaceOnUse" x1="1096.7" y1="670.0" x2="816.2" y2="944.0"><stop offset="0.000" stop-color="#fff" stop-opacity="0.000"/><stop offset="0.200" stop-color="#fff" stop-opacity="0.300"/><stop offset="0.350" stop-color="#fff" stop-opacity="0.620"/><stop offset="0.600" stop-color="#fff" stop-opacity="0.880"/><stop offset="1.000" stop-color="#fff" stop-opacity="1.000"/></linearGradient>
<filter id="cme" filterUnits="userSpaceOnUse" x="799.0" y="525.7" width="413.0" height="410.3" color-interpolation-filters="sRGB"><feComponentTransfer><feFuncR type="table" tableValues="0.001 0.006 0.014 0.026 0.042 0.061 0.082 0.105 0.129 0.156 0.183 0.211 0.238 0.265 0.291 0.316 0.342 0.367 0.391 0.416 0.441 0.466 0.491 0.516 0.541 0.566 0.591 0.616 0.640 0.665 0.689 0.712 0.736 0.758 0.781 0.802 0.822 0.842 0.861 0.878 0.894 0.909 0.923 0.936 0.947 0.957 0.965 0.973 0.978 0.983 0.986 0.988 0.988 0.987 0.984 0.980 0.975 0.968 0.961 0.953 0.948 0.947 0.955 0.971 0.988"/><feFuncG type="table" tableValues="0.000 0.005 0.011 0.019 0.028 0.037 0.043 0.047 0.047 0.045 0.040 0.037 0.037 0.040 0.046 0.053 0.062 0.072 0.081 0.090 0.099 0.108 0.117 0.126 0.135 0.144 0.153 0.162 0.171 0.182 0.192 0.204 0.216 0.229 0.243 0.259 0.275 0.293 0.312 0.332 0.353 0.376 0.399 0.424 0.449 0.475 0.502 0.530 0.558 0.587 0.616 0.645 0.675 0.706 0.736 0.767 0.798 0.829 0.859 0.889 0.917 0.943 0.966 0.985 0.998"/><feFuncB type="table" tableValues="0.014 0.039 0.072 0.106 0.141 0.178 0.215 0.253 0.291 0.325 0.355 0.379 0.396 0.409 0.419 0.425 0.429 0.432 0.433 0.433 0.432 0.429 0.426 0.421 0.415 0.408 0.400 0.391 0.381 0.370 0.358 0.344 0.330 0.315 0.300 0.283 0.266 0.249 0.231 0.212 0.194 0.175 0.155 0.135 0.115 0.095 0.074 0.053 0.035 0.025 0.026 0.040 0.065 0.096 0.130 0.166 0.206 0.250 0.298 0.351 0.411 0.475 0.540 0.602 0.645"/></feComponentTransfer></filter>
<clipPath id="cpe"><rect x="800.0" y="526.7" width="411.0" height="408.3"/></clipPath>
<filter id="ble10" filterUnits="userSpaceOnUse" x="768.0" y="494.7" width="475.0" height="472.3" color-interpolation-filters="sRGB"><feGaussianBlur stdDeviation="10"/></filter>
<filter id="ble7" filterUnits="userSpaceOnUse" x="777.0" y="503.7" width="457.0" height="454.3" color-interpolation-filters="sRGB"><feGaussianBlur stdDeviation="7"/></filter>
<filter id="ble25" filterUnits="userSpaceOnUse" x="723.0" y="449.7" width="565.0" height="562.3" color-interpolation-filters="sRGB"><feGaussianBlur stdDeviation="25"/></filter>
<filter id="ble9" filterUnits="userSpaceOnUse" x="771.0" y="497.7" width="469.0" height="466.3" color-interpolation-filters="sRGB"><feGaussianBlur stdDeviation="9"/></filter>
<filter id="ble4_5" filterUnits="userSpaceOnUse" x="784.5" y="511.2" width="442.0" height="439.3" color-interpolation-filters="sRGB"><feGaussianBlur stdDeviation="4.5"/></filter>
<filter id="ble16" filterUnits="userSpaceOnUse" x="750.0" y="476.7" width="511.0" height="508.3" color-interpolation-filters="sRGB"><feGaussianBlur stdDeviation="16"/></filter>
<filter id="ble8" filterUnits="userSpaceOnUse" x="774.0" y="500.7" width="463.0" height="460.3" color-interpolation-filters="sRGB"><feGaussianBlur stdDeviation="8"/></filter>
<filter id="ble4" filterUnits="userSpaceOnUse" x="786.0" y="512.7" width="439.0" height="436.3" color-interpolation-filters="sRGB"><feGaussianBlur stdDeviation="4"/></filter>
<filter id="ble3" filterUnits="userSpaceOnUse" x="789.0" y="515.7" width="433.0" height="430.3" color-interpolation-filters="sRGB"><feGaussianBlur stdDeviation="3"/></filter>
<linearGradient id="cbge" gradientUnits="userSpaceOnUse" x1="0" y1="935.0" x2="0" y2="546.0"><stop offset="0.0000" stop-color="#000004"/><stop offset="0.0417" stop-color="#050417"/><stop offset="0.0833" stop-color="#110a30"/><stop offset="0.1250" stop-color="#210c4a"/><stop offset="0.1667" stop-color="#320a5e"/><stop offset="0.2083" stop-color="#450a69"/><stop offset="0.2500" stop-color="#57106e"/><stop offset="0.2917" stop-color="#67166e"/><stop offset="0.3333" stop-color="#781c6d"/><stop offset="0.3750" stop-color="#8a226a"/><stop offset="0.4167" stop-color="#9a2865"/><stop offset="0.4583" stop-color="#ab2f5e"/><stop offset="0.5000" stop-color="#bc3754"/><stop offset="0.5000" stop-color="#bc3754"/><stop offset="0.5417" stop-color="#ca404a"/><stop offset="0.5833" stop-color="#d84c3e"/><stop offset="0.6250" stop-color="#e45a31"/><stop offset="0.6667" stop-color="#ed6925"/><stop offset="0.7083" stop-color="#f57b17"/><stop offset="0.7500" stop-color="#f98e09"/><stop offset="0.7917" stop-color="#fca108"/><stop offset="0.8333" stop-color="#fbb61a"/><stop offset="0.8750" stop-color="#f9cb35"/><stop offset="0.9167" stop-color="#f4df53"/><stop offset="0.9583" stop-color="#f2f27d"/><stop offset="1.0000" stop-color="#fcffa4"/></linearGradient>
<clipPath id="clf"><rect x="1459.4" y="526.5" width="411.4" height="408.5"/></clipPath>
<linearGradient id="lg48" gradientUnits="userSpaceOnUse" x1="1459.4" y1="0.0" x2="1472.4" y2="0.0"><stop offset="0.000" stop-color="#fff" stop-opacity="0.100"/><stop offset="1.000" stop-color="#fff" stop-opacity="0.000"/></linearGradient>
<linearGradient id="lg49" gradientUnits="userSpaceOnUse" x1="1913.8" y1="515.0" x2="1475.6" y2="944.0"><stop offset="0.000" stop-color="#fff" stop-opacity="0.200"/><stop offset="0.500" stop-color="#fff" stop-opacity="0.320"/><stop offset="1.000" stop-color="#fff" stop-opacity="0.400"/></linearGradient>
<linearGradient id="lg50" gradientUnits="userSpaceOnUse" x1="1689.4" y1="740.0" x2="1475.6" y2="944.0"><stop offset="0.000" stop-color="#fff" stop-opacity="0.000"/><stop offset="0.300" stop-color="#fff" stop-opacity="0.070"/><stop offset="1.000" stop-color="#fff" stop-opacity="0.160"/></linearGradient>
<linearGradient id="lg51" gradientUnits="userSpaceOnUse" x1="1689.4" y1="740.0" x2="1475.6" y2="944.0"><stop offset="0.000" stop-color="#fff" stop-opacity="0.000"/><stop offset="0.250" stop-color="#fff" stop-opacity="0.160"/><stop offset="0.600" stop-color="#fff" stop-opacity="0.250"/><stop offset="1.000" stop-color="#fff" stop-opacity="0.300"/></linearGradient>
<linearGradient id="lg52" gradientUnits="userSpaceOnUse" x1="1689.4" y1="740.0" x2="1475.6" y2="944.0"><stop offset="0.000" stop-color="#fff" stop-opacity="0.050"/><stop offset="0.200" stop-color="#fff" stop-opacity="0.350"/><stop offset="0.500" stop-color="#fff" stop-opacity="0.550"/><stop offset="1.000" stop-color="#fff" stop-opacity="0.700"/></linearGradient>
<linearGradient id="lg53" gradientUnits="userSpaceOnUse" x1="1544.3" y1="891.5" x2="1479.8" y2="948.2"><stop offset="0.000" stop-color="#fff" stop-opacity="0.200"/><stop offset="1.000" stop-color="#fff" stop-opacity="0.800"/></linearGradient>
<linearGradient id="lg54" gradientUnits="userSpaceOnUse" x1="1913.8" y1="515.0" x2="1629.1" y2="800.0"><stop offset="0.000" stop-color="#fff" stop-opacity="0.100"/><stop offset="0.500" stop-color="#fff" stop-opacity="0.150"/><stop offset="0.850" stop-color="#fff" stop-opacity="0.100"/><stop offset="1.000" stop-color="#fff" stop-opacity="0.000"/></linearGradient>
<linearGradient id="lg55" gradientUnits="userSpaceOnUse" x1="1913.8" y1="515.0" x2="1629.1" y2="800.0"><stop offset="0.000" stop-color="#fff" stop-opacity="0.200"/><stop offset="0.350" stop-color="#fff" stop-opacity="0.350"/><stop offset="0.700" stop-color="#fff" stop-opacity="0.550"/><stop offset="0.880" stop-color="#fff" stop-opacity="0.450"/><stop offset="1.000" stop-color="#fff" stop-opacity="0.000"/></linearGradient>
<filter id="cmf" filterUnits="userSpaceOnUse" x="1458.4" y="525.5" width="413.4" height="410.5" color-interpolation-filters="sRGB"><feComponentTransfer><feFuncR type="table" tableValues="0.001 0.006 0.014 0.026 0.042 0.061 0.082 0.105 0.129 0.156 0.183 0.211 0.238 0.265 0.291 0.316 0.342 0.367 0.391 0.416 0.441 0.466 0.491 0.516 0.541 0.566 0.591 0.616 0.640 0.665 0.689 0.712 0.736 0.758 0.781 0.802 0.822 0.842 0.861 0.878 0.894 0.909 0.923 0.936 0.947 0.957 0.965 0.973 0.978 0.983 0.986 0.988 0.988 0.987 0.984 0.980 0.975 0.968 0.961 0.953 0.948 0.947 0.955 0.971 0.988"/><feFuncG type="table" tableValues="0.000 0.005 0.011 0.019 0.028 0.037 0.043 0.047 0.047 0.045 0.040 0.037 0.037 0.040 0.046 0.053 0.062 0.072 0.081 0.090 0.099 0.108 0.117 0.126 0.135 0.144 0.153 0.162 0.171 0.182 0.192 0.204 0.216 0.229 0.243 0.259 0.275 0.293 0.312 0.332 0.353 0.376 0.399 0.424 0.449 0.475 0.502 0.530 0.558 0.587 0.616 0.645 0.675 0.706 0.736 0.767 0.798 0.829 0.859 0.889 0.917 0.943 0.966 0.985 0.998"/><feFuncB type="table" tableValues="0.014 0.039 0.072 0.106 0.141 0.178 0.215 0.253 0.291 0.325 0.355 0.379 0.396 0.409 0.419 0.425 0.429 0.432 0.433 0.433 0.432 0.429 0.426 0.421 0.415 0.408 0.400 0.391 0.381 0.370 0.358 0.344 0.330 0.315 0.300 0.283 0.266 0.249 0.231 0.212 0.194 0.175 0.155 0.135 0.115 0.095 0.074 0.053 0.035 0.025 0.026 0.040 0.065 0.096 0.130 0.166 0.206 0.250 0.298 0.351 0.411 0.475 0.540 0.602 0.645"/></feComponentTransfer></filter>
<clipPath id="cpf"><rect x="1459.4" y="526.5" width="411.4" height="408.5"/></clipPath>
<filter id="blf6" filterUnits="userSpaceOnUse" x="1439.4" y="506.5" width="451.4" height="448.5" color-interpolation-filters="sRGB"><feGaussianBlur stdDeviation="6"/></filter>
<filter id="blf4_5" filterUnits="userSpaceOnUse" x="1443.9" y="511.0" width="442.4" height="439.5" color-interpolation-filters="sRGB"><feGaussianBlur stdDeviation="4.5"/></filter>
<filter id="blf36" filterUnits="userSpaceOnUse" x="1349.4" y="416.5" width="631.4" height="628.5" color-interpolation-filters="sRGB"><feGaussianBlur stdDeviation="36"/></filter>
<filter id="blf16" filterUnits="userSpaceOnUse" x="1409.4" y="476.5" width="511.4" height="508.5" color-interpolation-filters="sRGB"><feGaussianBlur stdDeviation="16"/></filter>
<filter id="blf3_5" filterUnits="userSpaceOnUse" x="1446.9" y="514.0" width="436.4" height="433.5" color-interpolation-filters="sRGB"><feGaussianBlur stdDeviation="3.5"/></filter>
<filter id="blf12" filterUnits="userSpaceOnUse" x="1421.4" y="488.5" width="487.4" height="484.5" color-interpolation-filters="sRGB"><feGaussianBlur stdDeviation="12"/></filter>
<filter id="blf14" filterUnits="userSpaceOnUse" x="1415.4" y="482.5" width="499.4" height="496.5" color-interpolation-filters="sRGB"><feGaussianBlur stdDeviation="14"/></filter>
<linearGradient id="cbgf" gradientUnits="userSpaceOnUse" x1="0" y1="935.0" x2="0" y2="526.6"><stop offset="0.0000" stop-color="#bc3754"/><stop offset="0.0417" stop-color="#c33b4f"/><stop offset="0.0833" stop-color="#ca404a"/><stop offset="0.1250" stop-color="#d24644"/><stop offset="0.1667" stop-color="#d84c3e"/><stop offset="0.2083" stop-color="#de5238"/><stop offset="0.2500" stop-color="#e45a31"/><stop offset="0.2917" stop-color="#e9612b"/><stop offset="0.3333" stop-color="#ed6925"/><stop offset="0.3750" stop-color="#f1731d"/><stop offset="0.4167" stop-color="#f57b17"/><stop offset="0.4583" stop-color="#f78410"/><stop offset="0.5000" stop-color="#f98e09"/><stop offset="0.5417" stop-color="#fb9706"/><stop offset="0.5833" stop-color="#fca108"/><stop offset="0.6250" stop-color="#fcac11"/><stop offset="0.6667" stop-color="#fbb61a"/><stop offset="0.7083" stop-color="#fac026"/><stop offset="0.7500" stop-color="#f9cb35"/><stop offset="0.7917" stop-color="#f6d543"/><stop offset="0.8333" stop-color="#f4df53"/><stop offset="0.8750" stop-color="#f2ea69"/><stop offset="0.9167" stop-color="#f2f27d"/><stop offset="0.9583" stop-color="#f5f992"/><stop offset="1.0000" stop-color="#fcffa4"/></linearGradient>
<clipPath id="clbi"><rect x="1014.6" y="33.6" width="137.1" height="136.4"/></clipPath>
<linearGradient id="lg56" gradientUnits="userSpaceOnUse" x1="1007.5" y1="184.4" x2="1124.8" y2="20.7"><stop offset="0.000" stop-color="#fff" stop-opacity="0.000"/><stop offset="0.350" stop-color="#fff" stop-opacity="0.200"/><stop offset="0.550" stop-color="#fff" stop-opacity="0.300"/><stop offset="1.000" stop-color="#fff" stop-opacity="0.280"/></linearGradient>
<linearGradient id="lg57" gradientUnits="userSpaceOnUse" x1="1024.5" y1="187.4" x2="1141.8" y2="23.7"><stop offset="0.000" stop-color="#fff" stop-opacity="0.600"/><stop offset="0.400" stop-color="#fff" stop-opacity="0.450"/><stop offset="1.000" stop-color="#fff" stop-opacity="0.250"/></linearGradient>
<filter id="cmbi" filterUnits="userSpaceOnUse" x="1013.6" y="32.6" width="139.1" height="138.4" color-interpolation-filters="sRGB"><feComponentTransfer><feFuncR type="table" tableValues="0.001 0.006 0.014 0.026 0.042 0.061 0.082 0.105 0.129 0.156 0.183 0.211 0.238 0.265 0.291 0.316 0.342 0.367 0.391 0.416 0.441 0.466 0.491 0.516 0.541 0.566 0.591 0.616 0.640 0.665 0.689 0.712 0.736 0.758 0.781 0.802 0.822 0.842 0.861 0.878 0.894 0.909 0.923 0.936 0.947 0.957 0.965 0.973 0.978 0.983 0.986 0.988 0.988 0.987 0.984 0.980 0.975 0.968 0.961 0.953 0.948 0.947 0.955 0.971 0.988"/><feFuncG type="table" tableValues="0.000 0.005 0.011 0.019 0.028 0.037 0.043 0.047 0.047 0.045 0.040 0.037 0.037 0.040 0.046 0.053 0.062 0.072 0.081 0.090 0.099 0.108 0.117 0.126 0.135 0.144 0.153 0.162 0.171 0.182 0.192 0.204 0.216 0.229 0.243 0.259 0.275 0.293 0.312 0.332 0.353 0.376 0.399 0.424 0.449 0.475 0.502 0.530 0.558 0.587 0.616 0.645 0.675 0.706 0.736 0.767 0.798 0.829 0.859 0.889 0.917 0.943 0.966 0.985 0.998"/><feFuncB type="table" tableValues="0.014 0.039 0.072 0.106 0.141 0.178 0.215 0.253 0.291 0.325 0.355 0.379 0.396 0.409 0.419 0.425 0.429 0.432 0.433 0.433 0.432 0.429 0.426 0.421 0.415 0.408 0.400 0.391 0.381 0.370 0.358 0.344 0.330 0.315 0.300 0.283 0.266 0.249 0.231 0.212 0.194 0.175 0.155 0.135 0.115 0.095 0.074 0.053 0.035 0.025 0.026 0.040 0.065 0.096 0.130 0.166 0.206 0.250 0.298 0.351 0.411 0.475 0.540 0.602 0.645"/></feComponentTransfer></filter>
<clipPath id="cpbi"><rect x="1014.6" y="33.6" width="137.1" height="136.4"/></clipPath>
<filter id="blbi2_5" filterUnits="userSpaceOnUse" x="1005.1" y="24.1" width="156.1" height="155.4" color-interpolation-filters="sRGB"><feGaussianBlur stdDeviation="2.5"/></filter>
<filter id="blbi7" filterUnits="userSpaceOnUse" x="991.6" y="10.6" width="183.1" height="182.4" color-interpolation-filters="sRGB"><feGaussianBlur stdDeviation="7"/></filter>
<filter id="blbi5" filterUnits="userSpaceOnUse" x="997.6" y="16.6" width="171.1" height="170.4" color-interpolation-filters="sRGB"><feGaussianBlur stdDeviation="5"/></filter>
<filter id="blbi6" filterUnits="userSpaceOnUse" x="994.6" y="13.6" width="177.1" height="176.4" color-interpolation-filters="sRGB"><feGaussianBlur stdDeviation="6"/></filter>
<linearGradient id="icbbi" gradientUnits="userSpaceOnUse" x1="0" y1="170.0" x2="0" y2="40.0"><stop offset="0.000" stop-color="#bc3754"/><stop offset="0.083" stop-color="#ca404a"/><stop offset="0.167" stop-color="#d84c3e"/><stop offset="0.250" stop-color="#e45a31"/><stop offset="0.333" stop-color="#ed6925"/><stop offset="0.417" stop-color="#f57b17"/><stop offset="0.500" stop-color="#f98e09"/><stop offset="0.583" stop-color="#fca108"/><stop offset="0.667" stop-color="#fbb61a"/><stop offset="0.750" stop-color="#f9cb35"/><stop offset="0.833" stop-color="#f4df53"/><stop offset="0.917" stop-color="#f2f27d"/><stop offset="1.000" stop-color="#fcffa4"/></linearGradient>
<clipPath id="clci"><rect x="1670.4" y="30.8" width="138.7" height="136.5"/></clipPath>
<linearGradient id="lg58" gradientUnits="userSpaceOnUse" x1="1745.4" y1="0.0" x2="1809.1" y2="0.0"><stop offset="0.000" stop-color="#fff" stop-opacity="0.000"/><stop offset="1.000" stop-color="#fff" stop-opacity="0.080"/></linearGradient>
<linearGradient id="lg59" gradientUnits="userSpaceOnUse" x1="1689.3" y1="185.7" x2="1808.0" y2="21.9"><stop offset="0.000" stop-color="#fff" stop-opacity="0.500"/><stop offset="0.500" stop-color="#fff" stop-opacity="0.320"/><stop offset="1.000" stop-color="#fff" stop-opacity="0.180"/></linearGradient>
<linearGradient id="lg60" gradientUnits="userSpaceOnUse" x1="1682.3" y1="185.7" x2="1801.0" y2="21.9"><stop offset="0.000" stop-color="#fff" stop-opacity="0.800"/><stop offset="0.300" stop-color="#fff" stop-opacity="0.620"/><stop offset="0.600" stop-color="#fff" stop-opacity="0.400"/><stop offset="1.000" stop-color="#fff" stop-opacity="0.250"/></linearGradient>
<linearGradient id="lg61" gradientUnits="userSpaceOnUse" x1="1662.3" y1="181.7" x2="1781.0" y2="17.9"><stop offset="0.000" stop-color="#fff" stop-opacity="0.750"/><stop offset="0.300" stop-color="#fff" stop-opacity="0.500"/><stop offset="0.600" stop-color="#fff" stop-opacity="0.250"/><stop offset="1.000" stop-color="#fff" stop-opacity="0.120"/></linearGradient>
<filter id="cmci" filterUnits="userSpaceOnUse" x="1669.4" y="29.8" width="140.7" height="138.5" color-interpolation-filters="sRGB"><feComponentTransfer><feFuncR type="table" tableValues="0.001 0.006 0.014 0.026 0.042 0.061 0.082 0.105 0.129 0.156 0.183 0.211 0.238 0.265 0.291 0.316 0.342 0.367 0.391 0.416 0.441 0.466 0.491 0.516 0.541 0.566 0.591 0.616 0.640 0.665 0.689 0.712 0.736 0.758 0.781 0.802 0.822 0.842 0.861 0.878 0.894 0.909 0.923 0.936 0.947 0.957 0.965 0.973 0.978 0.983 0.986 0.988 0.988 0.987 0.984 0.980 0.975 0.968 0.961 0.953 0.948 0.947 0.955 0.971 0.988"/><feFuncG type="table" tableValues="0.000 0.005 0.011 0.019 0.028 0.037 0.043 0.047 0.047 0.045 0.040 0.037 0.037 0.040 0.046 0.053 0.062 0.072 0.081 0.090 0.099 0.108 0.117 0.126 0.135 0.144 0.153 0.162 0.171 0.182 0.192 0.204 0.216 0.229 0.243 0.259 0.275 0.293 0.312 0.332 0.353 0.376 0.399 0.424 0.449 0.475 0.502 0.530 0.558 0.587 0.616 0.645 0.675 0.706 0.736 0.767 0.798 0.829 0.859 0.889 0.917 0.943 0.966 0.985 0.998"/><feFuncB type="table" tableValues="0.014 0.039 0.072 0.106 0.141 0.178 0.215 0.253 0.291 0.325 0.355 0.379 0.396 0.409 0.419 0.425 0.429 0.432 0.433 0.433 0.432 0.429 0.426 0.421 0.415 0.408 0.400 0.391 0.381 0.370 0.358 0.344 0.330 0.315 0.300 0.283 0.266 0.249 0.231 0.212 0.194 0.175 0.155 0.135 0.115 0.095 0.074 0.053 0.035 0.025 0.026 0.040 0.065 0.096 0.130 0.166 0.206 0.250 0.298 0.351 0.411 0.475 0.540 0.602 0.645"/></feComponentTransfer></filter>
<clipPath id="cpci"><rect x="1670.4" y="30.8" width="138.7" height="136.5"/></clipPath>
<filter id="blci13" filterUnits="userSpaceOnUse" x="1629.4" y="-10.2" width="220.7" height="218.5" color-interpolation-filters="sRGB"><feGaussianBlur stdDeviation="13"/></filter>
<filter id="blci6" filterUnits="userSpaceOnUse" x="1650.4" y="10.8" width="178.7" height="176.5" color-interpolation-filters="sRGB"><feGaussianBlur stdDeviation="6"/></filter>
<filter id="blci3" filterUnits="userSpaceOnUse" x="1659.4" y="19.8" width="160.7" height="158.5" color-interpolation-filters="sRGB"><feGaussianBlur stdDeviation="3"/></filter>
<linearGradient id="icbci" gradientUnits="userSpaceOnUse" x1="0" y1="167.3" x2="0" y2="37.2"><stop offset="0.000" stop-color="#bc3754"/><stop offset="0.083" stop-color="#ca404a"/><stop offset="0.167" stop-color="#d84c3e"/><stop offset="0.250" stop-color="#e45a31"/><stop offset="0.333" stop-color="#ed6925"/><stop offset="0.417" stop-color="#f57b17"/><stop offset="0.500" stop-color="#f98e09"/><stop offset="0.583" stop-color="#fca108"/><stop offset="0.667" stop-color="#fbb61a"/><stop offset="0.750" stop-color="#f9cb35"/><stop offset="0.833" stop-color="#f4df53"/><stop offset="0.917" stop-color="#f2f27d"/><stop offset="1.000" stop-color="#fcffa4"/></linearGradient>
<filter id="sh" x="-20%" y="-20%" width="140%" height="150%"><feDropShadow dx="1.3" dy="1.4" stdDeviation="1.4" flood-color="#000" flood-opacity="0.6"/></filter>
</defs>
<rect width="2001" height="1001" fill="#fff"/>
<g clip-path="url(#cpa)"><g filter="url(#cma)">
<rect x="155.8" y="10.5" width="415.0" height="411.5" fill="#020202"/>
<g filter="url(#bla11)"><path d="M522.8 5.0C517.2 10.8 500.8 27.5 489.0 40.0C477.1 52.5 463.8 66.7 451.5 80.0C439.3 93.3 427.3 106.7 415.5 120.0C403.7 133.3 392.1 146.7 380.8 160.0C369.5 173.3 358.4 186.7 347.5 200.0C336.6 213.3 325.4 227.5 315.6 240.0C305.8 252.5 296.9 264.2 288.7 275.0C280.6 285.8 270.3 300.0 266.6 305.0" fill="none" stroke="url(#lg1)" stroke-width="26.0"/><path d="M443.6 5.0C438.1 10.8 422.2 27.5 410.8 40.0C399.3 52.5 386.6 66.7 374.9 80.0C363.3 93.3 351.9 106.7 340.9 120.0C329.8 133.3 317.8 148.3 308.6 160.0C299.4 171.7 292.1 181.3 285.6 190.0C279.0 198.7 272.0 208.3 269.3 212.0" fill="none" stroke="url(#lg2)" stroke-width="24.0"/><path d="M441.8 170.0C436.1 175.8 418.8 193.3 407.9 205.0C397.1 216.7 386.7 228.3 376.7 240.0C366.7 251.7 357.1 263.3 347.9 275.0C338.8 286.7 330.0 298.3 321.7 310.0C313.4 321.7 305.5 333.3 298.0 345.0C290.5 356.7 282.6 370.0 276.8 380.0C271.0 390.0 267.4 397.0 263.3 405.0C259.1 413.0 253.8 424.2 251.9 428.0" fill="none" stroke="url(#lg3)" stroke-width="26.0"/><path d="M284.0 280.0C282.7 291.7 278.7 325.0 276.0 350.0C273.3 375.0 269.3 416.7 268.0 430.0" fill="none" stroke="url(#lg4)" stroke-width="24.0"/></g>
<g filter="url(#bla5)"><path d="M522.8 5.0C517.2 10.8 500.8 27.5 489.0 40.0C477.1 52.5 463.8 66.7 451.5 80.0C439.3 93.3 427.3 106.7 415.5 120.0C403.7 133.3 392.1 146.7 380.8 160.0C369.5 173.3 358.4 186.7 347.5 200.0C336.6 213.3 325.4 227.5 315.6 240.0C305.8 252.5 296.9 264.2 288.7 275.0C280.6 285.8 270.3 300.0 266.6 305.0" fill="none" stroke="url(#lg5)" stroke-width="9.0"/></g>
<g filter="url(#bla4_5)"><path d="M443.6 5.0C438.1 10.8 422.2 27.5 410.8 40.0C399.3 52.5 386.6 66.7 374.9 80.0C363.3 93.3 351.9 106.7 340.9 120.0C329.8 133.3 317.8 148.3 308.6 160.0C299.4 171.7 292.1 181.3 285.6 190.0C279.0 198.7 272.0 208.3 269.3 212.0" fill="none" stroke="url(#lg6)" stroke-width="7.0"/></g>
<g filter="url(#bla5)"><path d="M441.8 170.0C436.1 175.8 418.8 193.3 407.9 205.0C397.1 216.7 386.7 228.3 376.7 240.0C366.7 251.7 357.1 263.3 347.9 275.0C338.8 286.7 330.0 298.3 321.7 310.0C313.4 321.7 305.5 333.3 298.0 345.0C290.5 356.7 282.6 370.0 276.8 380.0C271.0 390.0 267.4 397.0 263.3 405.0C259.1 413.0 253.8 424.2 251.9 428.0" fill="none" stroke="url(#lg7)" stroke-width="9.0"/></g>
</g></g>
<path clip-path="url(#cla)" d="M526.4 2.0C521.0 11.7 505.0 40.3 493.9 60.0C482.9 79.7 471.5 100.0 460.3 120.0C449.1 140.0 437.9 160.0 426.7 180.0C415.5 200.0 400.8 226.3 393.1 240.0C385.5 253.7 383.0 257.9 380.8 262.0C378.7 266.1 383.2 260.8 380.3 264.6C377.4 268.4 368.8 278.0 363.3 284.7C357.8 291.4 352.3 298.1 347.2 304.8C342.1 311.6 337.4 318.3 332.7 325.0C328.0 331.7 323.6 338.4 319.2 345.1C314.7 351.8 310.3 358.5 305.8 365.2C301.3 371.9 296.8 378.6 292.4 385.3C288.0 392.0 283.6 398.7 279.1 405.4C274.7 412.1 268.1 422.1 265.9 425.5" fill="none" stroke="#269426" stroke-width="5.6" stroke-dasharray="24 7.3"/>
<path clip-path="url(#cla)" d="M260.9 428.6C262.8 425.6 268.6 416.8 272.5 411.0C276.3 405.1 280.2 399.2 284.1 393.4C287.9 387.5 291.8 381.6 295.7 375.8C299.6 369.9 303.6 364.0 307.5 358.2C311.4 352.3 315.2 346.4 319.1 340.6C323.1 334.7 327.0 328.8 331.1 323.0C335.2 317.1 339.3 311.2 343.7 305.3C348.2 299.5 352.8 293.6 357.6 287.7C362.4 281.9 367.4 276.0 372.4 270.1C377.4 264.3 382.4 258.4 387.5 252.5C392.6 246.7 397.7 240.8 402.9 234.9C408.1 229.1 413.3 223.2 418.5 217.3C423.7 211.5 429.0 205.6 434.2 199.7C439.5 193.8 444.8 188.0 450.0 182.1C455.3 176.2 460.6 170.4 465.8 164.5C471.1 158.6 476.3 152.8 481.5 146.9C486.7 141.0 491.9 135.2 497.1 129.3C502.2 123.4 507.3 117.6 512.4 111.7C517.4 105.8 522.4 100.0 527.3 94.1C532.3 88.2 537.1 82.4 541.9 76.5C546.7 70.6 551.5 64.7 556.1 58.9C560.7 53.0 565.2 47.1 569.6 41.3C574.0 35.4 579.6 29.5 582.5 23.7C585.3 17.8 585.9 9.0 586.6 6.1" fill="none" stroke="#269426" stroke-width="5.9"/>
<rect x="157.8" y="12.5" width="411.0" height="407.5" fill="none" stroke="#000" stroke-width="0.9"/>
<path d="M157.8 420.0v4.7" stroke="#000" stroke-width="0.9"/>
<text x="157.8" y="447.8" text-anchor="middle" class="t">300</text>
<path d="M216.5 420.0v4.7" stroke="#000" stroke-width="0.9"/>
<text x="216.5" y="447.8" text-anchor="middle" class="t">400</text>
<path d="M275.2 420.0v4.7" stroke="#000" stroke-width="0.9"/>
<text x="275.2" y="447.8" text-anchor="middle" class="t">500</text>
<path d="M333.9 420.0v4.7" stroke="#000" stroke-width="0.9"/>
<text x="333.9" y="447.8" text-anchor="middle" class="t">600</text>
<path d="M392.7 420.0v4.7" stroke="#000" stroke-width="0.9"/>
<text x="392.7" y="447.8" text-anchor="middle" class="t">700</text>
<path d="M451.4 420.0v4.7" stroke="#000" stroke-width="0.9"/>
<text x="451.4" y="447.8" text-anchor="middle" class="t">800</text>
<path d="M510.1 420.0v4.7" stroke="#000" stroke-width="0.9"/>
<text x="510.1" y="447.8" text-anchor="middle" class="t">900</text>
<path d="M568.8 420.0v4.7" stroke="#000" stroke-width="0.9"/>
<text x="568.8" y="447.8" text-anchor="middle" class="t">1000</text>
<path d="M157.8 387.8h-4.7" stroke="#000" stroke-width="0.9"/>
<text x="147.6" y="397.1" text-anchor="end" class="t">25</text>
<path d="M157.8 334.2h-4.7" stroke="#000" stroke-width="0.9"/>
<text x="147.6" y="343.5" text-anchor="end" class="t">50</text>
<path d="M157.8 280.6h-4.7" stroke="#000" stroke-width="0.9"/>
<text x="147.6" y="289.9" text-anchor="end" class="t">75</text>
<path d="M157.8 227.0h-4.7" stroke="#000" stroke-width="0.9"/>
<text x="147.6" y="236.3" text-anchor="end" class="t">100</text>
<path d="M157.8 173.4h-4.7" stroke="#000" stroke-width="0.9"/>
<text x="147.6" y="182.7" text-anchor="end" class="t">125</text>
<path d="M157.8 119.7h-4.7" stroke="#000" stroke-width="0.9"/>
<text x="147.6" y="129.0" text-anchor="end" class="t">150</text>
<path d="M157.8 66.1h-4.7" stroke="#000" stroke-width="0.9"/>
<text x="147.6" y="75.4" text-anchor="end" class="t">175</text>
<path d="M157.8 12.5h-4.7" stroke="#000" stroke-width="0.9"/>
<text x="147.6" y="21.8" text-anchor="end" class="t">200</text>
<text x="363.3" y="477.4" text-anchor="middle" class="t">Wavelength (nm)</text>
<text transform="translate(92.7 216.2) rotate(-90)" text-anchor="middle" class="t">Dielectric thickness (nm)</text>
<rect x="571.2" y="12.5" width="21.3" height="407.5" fill="url(#cbga)"/>
<path d="M571.2 420.0L571.2 12.5L592.5 12.5L592.5 420.0Z" fill="none" stroke="#000" stroke-width="0.9" stroke-linejoin="miter"/>
<path d="M592.5 420.0h4.7" stroke="#000" stroke-width="0.9"/>
<text x="602.7" y="428.3" class="t">0.0</text>
<path d="M592.5 318.1h4.7" stroke="#000" stroke-width="0.9"/>
<text x="602.7" y="326.4" class="t">0.1</text>
<path d="M592.5 216.2h4.7" stroke="#000" stroke-width="0.9"/>
<text x="602.7" y="224.6" class="t">0.2</text>
<path d="M592.5 114.4h4.7" stroke="#000" stroke-width="0.9"/>
<text x="602.7" y="122.7" class="t">0.3</text>
<path d="M592.5 12.5h4.7" stroke="#000" stroke-width="0.9"/>
<text x="602.7" y="20.8" class="t">0.4</text>
<text transform="translate(646.4 214.8) rotate(90)" text-anchor="middle" class="t">FOM</text>
<g clip-path="url(#cpb)"><g filter="url(#cmb)">
<rect x="798.0" y="11.5" width="415.7" height="412.5" fill="#808080"/>
<rect x="798.0" y="11.5" width="140.0" height="412.5" fill="url(#lg8)"/>
<g filter="url(#blb7)"><path d="M882.4 0.0C882.0 33.3 881.1 145.0 880.0 200.0C878.9 255.0 876.8 290.0 876.0 330.0C875.2 370.0 875.2 421.7 875.0 440.0" fill="none" stroke="url(#lg9)" stroke-width="13.0"/></g>
<g filter="url(#blb10)"><path d="M933.0 0.0L935.0 300.0" fill="none" stroke="url(#lg10)" stroke-width="26.0"/></g>
<g filter="url(#blb6_5)"><path d="M920.5 0.0L920.5 230.0" fill="none" stroke="url(#lg11)" stroke-width="18.0"/></g>
<g filter="url(#blb11)"><path d="M942.0 190.0C942.4 193.3 943.4 202.4 944.3 210.0C945.2 217.6 946.2 226.9 947.5 235.8C948.8 244.8 950.0 253.7 951.8 263.7C953.6 273.7 956.1 287.0 958.3 296.0C960.4 305.0 961.5 309.6 964.7 317.5C967.9 325.4 975.5 338.9 977.6 343.2" fill="none" stroke="url(#lg12)" stroke-width="34.0"/></g>
<g filter="url(#blb7)"><path d="M922.0 190.0C922.4 193.3 923.4 202.4 924.3 210.0C925.2 217.6 926.2 226.9 927.5 235.8C928.8 244.8 930.0 253.7 931.8 263.7C933.6 273.7 936.1 287.0 938.3 296.0C940.4 305.0 941.5 309.6 944.7 317.5C947.9 325.4 955.5 338.9 957.6 343.2" fill="none" stroke="#fff" stroke-opacity="0.320" stroke-width="16.0"/></g>
<g filter="url(#blb9)"><path d="M963.8 336.0C966.2 332.6 973.0 322.6 977.8 315.8C982.7 309.1 987.7 302.4 993.0 295.7C998.3 289.0 1004.1 282.2 1009.8 275.5C1015.5 268.8 1021.2 262.1 1027.0 255.4C1032.8 248.7 1038.7 241.9 1044.6 235.2C1050.5 228.5 1056.5 221.8 1062.5 215.1C1068.5 208.3 1074.5 201.6 1080.5 194.9C1086.5 188.2 1095.6 178.1 1098.6 174.8" fill="none" stroke="url(#lg13)" stroke-width="20.0"/></g>
<g filter="url(#blb4)"><path d="M955.0 350.0C954.4 357.1 952.4 379.4 951.5 392.7C950.6 406.0 949.8 423.8 949.5 430.0" fill="none" stroke="#fff" stroke-opacity="0.500" stroke-width="7.0"/></g>
<g filter="url(#blb2_5)"><path d="M905.0 250.0C904.0 264.8 901.5 309.0 899.0 339.0C896.5 369.0 891.5 414.8 890.0 430.0" fill="none" stroke="#fff" stroke-opacity="0.350" stroke-width="4.0"/></g>
<g filter="url(#blb2_2)"><path d="M919.0 175.0L915.7 210.0L912.5 220.7L906.0 274.5L899.6 339.0L890.5 430.0L948.0 430.0L950.1 392.7L953.3 360.5L957.6 343.2L951.0 330.0L944.7 317.5L938.3 296.0L931.8 263.7L927.5 235.8L924.3 210.0L921.5 188.0Z" fill="#fff" fill-opacity="1.000"/></g>
</g></g>
<path clip-path="url(#clb)" d="M903.3 430.6C905.2 427.7 911.0 418.8 914.9 413.0C918.7 407.1 922.6 401.2 926.5 395.3C930.4 389.4 934.2 383.5 938.2 377.7C942.1 371.8 946.0 365.9 949.9 360.0C953.8 354.1 957.7 348.2 961.6 342.4C965.5 336.5 969.4 330.6 973.6 324.7C977.7 318.8 981.8 312.9 986.2 307.1C990.7 301.2 995.3 295.3 1000.1 289.4C1004.9 283.5 1010.0 277.7 1015.0 271.8C1020.0 265.9 1025.0 260.0 1030.1 254.1C1035.2 248.2 1040.3 242.4 1045.5 236.5C1050.7 230.6 1055.9 224.7 1061.1 218.8C1066.4 212.9 1071.6 207.1 1076.9 201.2C1082.2 195.3 1087.4 189.4 1092.7 183.5C1098.0 177.6 1103.3 171.8 1108.5 165.9C1113.8 160.0 1119.1 154.1 1124.3 148.2C1129.5 142.4 1134.7 136.5 1139.8 130.6C1145.0 124.7 1150.1 118.8 1155.2 112.9C1160.2 107.1 1165.2 101.2 1170.2 95.3C1175.1 89.4 1180.0 83.5 1184.8 77.6C1189.6 71.8 1194.3 65.9 1199.0 60.0C1203.6 54.1 1208.1 48.2 1212.5 42.3C1216.9 36.5 1222.6 30.6 1225.4 24.7C1228.2 18.8 1228.9 10.0 1229.5 7.0" fill="none" stroke="#269426" stroke-width="5.9"/>
<rect x="800.0" y="13.5" width="411.7" height="408.5" fill="none" stroke="#000" stroke-width="0.9"/>
<path d="M800.0 422.0v4.7" stroke="#000" stroke-width="0.9"/>
<text x="800.0" y="449.8" text-anchor="middle" class="t">300</text>
<path d="M858.8 422.0v4.7" stroke="#000" stroke-width="0.9"/>
<text x="858.8" y="449.8" text-anchor="middle" class="t">400</text>
<path d="M917.6 422.0v4.7" stroke="#000" stroke-width="0.9"/>
<text x="917.6" y="449.8" text-anchor="middle" class="t">500</text>
<path d="M976.4 422.0v4.7" stroke="#000" stroke-width="0.9"/>
<text x="976.4" y="449.8" text-anchor="middle" class="t">600</text>
<path d="M1035.3 422.0v4.7" stroke="#000" stroke-width="0.9"/>
<text x="1035.3" y="449.8" text-anchor="middle" class="t">700</text>
<path d="M1094.1 422.0v4.7" stroke="#000" stroke-width="0.9"/>
<text x="1094.1" y="449.8" text-anchor="middle" class="t">800</text>
<path d="M1152.9 422.0v4.7" stroke="#000" stroke-width="0.9"/>
<text x="1152.9" y="449.8" text-anchor="middle" class="t">900</text>
<path d="M1211.7 422.0v4.7" stroke="#000" stroke-width="0.9"/>
<text x="1211.7" y="449.8" text-anchor="middle" class="t">1000</text>
<path d="M800.0 389.8h-4.7" stroke="#000" stroke-width="0.9"/>
<text x="789.8" y="399.1" text-anchor="end" class="t">25</text>
<path d="M800.0 336.0h-4.7" stroke="#000" stroke-width="0.9"/>
<text x="789.8" y="345.3" text-anchor="end" class="t">50</text>
<path d="M800.0 282.2h-4.7" stroke="#000" stroke-width="0.9"/>
<text x="789.8" y="291.6" text-anchor="end" class="t">75</text>
<path d="M800.0 228.5h-4.7" stroke="#000" stroke-width="0.9"/>
<text x="789.8" y="237.8" text-anchor="end" class="t">100</text>
<path d="M800.0 174.8h-4.7" stroke="#000" stroke-width="0.9"/>
<text x="789.8" y="184.1" text-anchor="end" class="t">125</text>
<path d="M800.0 121.0h-4.7" stroke="#000" stroke-width="0.9"/>
<text x="789.8" y="130.3" text-anchor="end" class="t">150</text>
<path d="M800.0 67.2h-4.7" stroke="#000" stroke-width="0.9"/>
<text x="789.8" y="76.5" text-anchor="end" class="t">175</text>
<path d="M800.0 13.5h-4.7" stroke="#000" stroke-width="0.9"/>
<text x="789.8" y="22.8" text-anchor="end" class="t">200</text>
<text x="1005.9" y="479.4" text-anchor="middle" class="t">Wavelength (nm)</text>
<text transform="translate(734.9 217.8) rotate(-90)" text-anchor="middle" class="t">Dielectric thickness (nm)</text>
<rect x="1214.5" y="33.0" width="21.0" height="389.0" fill="url(#cbgb)"/>
<path d="M1214.5 33.3L1225.0 13.1L1235.5 33.3Z" fill="#fcffa4"/>
<path d="M1214.5 422.0L1214.5 33.0L1225.0 13.1L1235.5 33.0L1235.5 422.0Z" fill="none" stroke="#000" stroke-width="0.9" stroke-linejoin="miter"/>
<path d="M1235.5 422.0h4.7" stroke="#000" stroke-width="0.9"/>
<text x="1245.7" y="430.3" class="t">−3</text>
<path d="M1235.5 344.2h4.7" stroke="#000" stroke-width="0.9"/>
<text x="1245.7" y="352.5" class="t">−2</text>
<path d="M1235.5 266.4h4.7" stroke="#000" stroke-width="0.9"/>
<text x="1245.7" y="274.7" class="t">−1</text>
<path d="M1235.5 188.6h4.7" stroke="#000" stroke-width="0.9"/>
<text x="1245.7" y="196.9" class="t">0</text>
<path d="M1235.5 110.8h4.7" stroke="#000" stroke-width="0.9"/>
<text x="1245.7" y="119.1" class="t">1</text>
<path d="M1235.5 33.0h4.7" stroke="#000" stroke-width="0.9"/>
<text x="1245.7" y="41.3" class="t">2</text>
<text transform="translate(1295.2 229.5) rotate(90)" text-anchor="middle" class="t">β (10<tspan class="sup" dy="-8.5">−4</tspan><tspan dy="8.5"> cm/W)</tspan></text>
<g clip-path="url(#cpc)"><g filter="url(#cmc)">
<rect x="1455.8" y="11.5" width="415.5" height="412.8" fill="#808080"/>
<rect x="1455.8" y="11.5" width="125.0" height="412.8" fill="url(#lg14)"/><rect x="1507.8" y="11.5" width="75.0" height="412.8" fill="url(#lg15)"/>
<g filter="url(#blc9)"><path d="M1572.5 0.0L1572.5 280.0" fill="none" stroke="url(#lg16)" stroke-width="24.0"/></g>
<g filter="url(#blc10)"><path d="M1579.0 247.0C1577.8 249.5 1574.1 255.7 1572.0 262.0C1569.9 268.3 1568.0 275.8 1566.5 285.0C1565.0 294.2 1564.1 306.2 1563.0 317.0C1561.9 327.8 1560.8 338.7 1559.8 350.0C1558.8 361.3 1557.8 371.7 1556.8 385.0C1555.8 398.3 1554.5 422.5 1554.0 430.0" fill="none" stroke="#000" stroke-opacity="0.600" stroke-width="30.0"/><path d="M1616.3 359.8C1620.2 354.0 1631.2 336.8 1639.4 325.3C1647.6 313.9 1656.2 302.4 1665.4 290.9C1674.6 279.4 1684.7 268.0 1694.6 256.5C1704.5 245.0 1714.7 233.5 1724.8 222.1C1735.0 210.6 1745.4 199.1 1755.6 187.6C1765.9 176.2 1776.2 164.7 1786.4 153.2C1796.5 141.7 1806.7 130.3 1816.5 118.8C1826.4 107.3 1836.2 95.8 1845.6 84.4C1855.0 72.9 1864.8 61.4 1872.9 49.9C1881.0 38.5 1890.6 21.2 1894.1 15.5" fill="none" stroke="url(#lg17)" stroke-width="28.0"/></g>
<g filter="url(#blc5)"><path d="M1599.5 359.1C1601.5 355.9 1607.6 346.6 1611.8 340.4C1616.0 334.2 1620.1 328.0 1624.4 321.8C1628.7 315.5 1633.1 309.3 1637.8 303.1C1642.5 296.9 1647.5 290.7 1652.6 284.5C1657.7 278.3 1663.0 272.0 1668.3 265.8C1673.6 259.6 1681.7 250.3 1684.4 247.2" fill="none" stroke="url(#lg18)" stroke-width="11.0"/></g>
<g filter="url(#blc6)"><path d="M1637.8 336.8C1638.2 337.9 1640.0 339.2 1640.0 343.2C1640.0 347.1 1639.2 352.2 1637.8 360.5C1636.4 368.8 1633.7 381.1 1631.4 392.7C1629.1 404.3 1625.2 423.8 1624.0 430.0" fill="none" stroke="#fff" stroke-opacity="0.650" stroke-width="14.0"/></g>
<g filter="url(#blc14)"><path d="M1652.8 336.8C1653.2 337.9 1655.0 339.2 1655.0 343.2C1655.0 347.1 1654.2 352.2 1652.8 360.5C1651.4 368.8 1648.7 381.1 1646.4 392.7C1644.1 404.3 1640.2 423.8 1639.0 430.0" fill="none" stroke="#fff" stroke-opacity="0.250" stroke-width="38.0"/></g>
<g filter="url(#blc3)"><path d="M1575.0 243.0L1573.0 247.0L1566.0 262.0L1560.5 285.0L1557.0 317.0L1553.8 350.0L1550.8 385.0L1548.0 430.0L1576.1 433.1L1579.7 422.3L1583.7 411.5L1587.8 400.8L1591.9 390.0L1596.0 379.3L1593.5 360.0L1593.0 345.0L1591.0 317.0L1588.0 285.0L1583.5 262.0L1577.0 247.0Z" fill="#000" fill-opacity="1.000"/></g>
<g filter="url(#blc2_5)"><path d="M1584.0 430.0L1598.4 392.7L1611.3 371.2L1624.2 349.7L1632.8 336.8L1635.0 343.2L1632.8 360.5L1626.4 392.7L1619.0 430.0Z" fill="#fff" fill-opacity="1.000"/></g>
</g></g>
<path clip-path="url(#clc)" d="M1561.0 430.9C1562.9 428.0 1568.7 419.1 1572.6 413.2C1576.5 407.4 1580.3 401.5 1584.2 395.6C1588.1 389.7 1592.0 383.8 1595.9 377.9C1599.8 372.0 1603.8 366.1 1607.7 360.3C1611.6 354.4 1615.4 348.5 1619.3 342.6C1623.3 336.7 1627.2 330.8 1631.3 324.9C1635.4 319.1 1639.5 313.2 1644.0 307.3C1648.4 301.4 1653.0 295.5 1657.8 289.6C1662.6 283.7 1667.7 277.8 1672.7 272.0C1677.7 266.1 1682.7 260.2 1687.8 254.3C1692.9 248.4 1698.0 242.5 1703.2 236.6C1708.4 230.7 1713.6 224.9 1718.8 219.0C1724.0 213.1 1729.3 207.2 1734.6 201.3C1739.8 195.4 1745.1 189.5 1750.4 183.7C1755.6 177.8 1760.9 171.9 1766.2 166.0C1771.5 160.1 1776.7 154.2 1781.9 148.3C1787.1 142.4 1792.3 136.6 1797.5 130.7C1802.6 124.8 1807.7 118.9 1812.8 113.0C1817.8 107.1 1822.8 101.2 1827.8 95.3C1832.7 89.5 1837.6 83.6 1842.4 77.7C1847.2 71.8 1851.9 65.9 1856.6 60.0C1861.2 54.1 1865.7 48.3 1870.1 42.4C1874.5 36.5 1880.2 30.6 1883.0 24.7C1885.8 18.8 1886.4 10.0 1887.1 7.0" fill="none" stroke="#269426" stroke-width="5.9"/>
<rect x="1457.8" y="13.5" width="411.5" height="408.8" fill="none" stroke="#000" stroke-width="0.9"/>
<path d="M1457.8 422.3v4.7" stroke="#000" stroke-width="0.9"/>
<text x="1457.8" y="450.1" text-anchor="middle" class="t">300</text>
<path d="M1516.6 422.3v4.7" stroke="#000" stroke-width="0.9"/>
<text x="1516.6" y="450.1" text-anchor="middle" class="t">400</text>
<path d="M1575.4 422.3v4.7" stroke="#000" stroke-width="0.9"/>
<text x="1575.4" y="450.1" text-anchor="middle" class="t">500</text>
<path d="M1634.2 422.3v4.7" stroke="#000" stroke-width="0.9"/>
<text x="1634.2" y="450.1" text-anchor="middle" class="t">600</text>
<path d="M1692.9 422.3v4.7" stroke="#000" stroke-width="0.9"/>
<text x="1692.9" y="450.1" text-anchor="middle" class="t">700</text>
<path d="M1751.7 422.3v4.7" stroke="#000" stroke-width="0.9"/>
<text x="1751.7" y="450.1" text-anchor="middle" class="t">800</text>
<path d="M1810.5 422.3v4.7" stroke="#000" stroke-width="0.9"/>
<text x="1810.5" y="450.1" text-anchor="middle" class="t">900</text>
<path d="M1869.3 422.3v4.7" stroke="#000" stroke-width="0.9"/>
<text x="1869.3" y="450.1" text-anchor="middle" class="t">1000</text>
<path d="M1457.8 390.0h-4.7" stroke="#000" stroke-width="0.9"/>
<text x="1447.6" y="399.3" text-anchor="end" class="t">25</text>
<path d="M1457.8 336.2h-4.7" stroke="#000" stroke-width="0.9"/>
<text x="1447.6" y="345.5" text-anchor="end" class="t">50</text>
<path d="M1457.8 282.4h-4.7" stroke="#000" stroke-width="0.9"/>
<text x="1447.6" y="291.7" text-anchor="end" class="t">75</text>
<path d="M1457.8 228.7h-4.7" stroke="#000" stroke-width="0.9"/>
<text x="1447.6" y="238.0" text-anchor="end" class="t">100</text>
<path d="M1457.8 174.9h-4.7" stroke="#000" stroke-width="0.9"/>
<text x="1447.6" y="184.2" text-anchor="end" class="t">125</text>
<path d="M1457.8 121.1h-4.7" stroke="#000" stroke-width="0.9"/>
<text x="1447.6" y="130.4" text-anchor="end" class="t">150</text>
<path d="M1457.8 67.3h-4.7" stroke="#000" stroke-width="0.9"/>
<text x="1447.6" y="76.6" text-anchor="end" class="t">175</text>
<path d="M1457.8 13.5h-4.7" stroke="#000" stroke-width="0.9"/>
<text x="1447.6" y="22.8" text-anchor="end" class="t">200</text>
<text x="1663.5" y="479.7" text-anchor="middle" class="t">Wavelength (nm)</text>
<text transform="translate(1392.7 217.9) rotate(-90)" text-anchor="middle" class="t">Dielectric thickness (nm)</text>
<rect x="1871.8" y="32.1" width="21.1" height="372.1" fill="url(#cbgc)"/>
<path d="M1871.8 403.9L1882.3 422.7L1892.9 403.9Z" fill="#000004"/>
<path d="M1871.8 32.4L1882.3 13.1L1892.9 32.4Z" fill="#fcffa4"/>
<path d="M1871.8 404.2L1871.8 32.1L1882.3 13.1L1892.9 32.1L1892.9 404.2L1882.3 422.7Z" fill="none" stroke="#000" stroke-width="0.9" stroke-linejoin="miter"/>
<path d="M1892.9 404.2h4.7" stroke="#000" stroke-width="0.9"/>
<text x="1903.1" y="412.5" class="t">−1.8</text>
<path d="M1892.9 311.2h4.7" stroke="#000" stroke-width="0.9"/>
<text x="1903.1" y="319.5" class="t">−1.2</text>
<path d="M1892.9 218.1h4.7" stroke="#000" stroke-width="0.9"/>
<text x="1903.1" y="226.4" class="t">−0.6</text>
<path d="M1892.9 125.1h4.7" stroke="#000" stroke-width="0.9"/>
<text x="1903.1" y="133.4" class="t">0.0</text>
<path d="M1892.9 32.1h4.7" stroke="#000" stroke-width="0.9"/>
<text x="1903.1" y="40.4" class="t">0.6</text>
<text transform="translate(1975.6 218.7) rotate(90)" text-anchor="middle" class="t">n<tspan class="sup" dy="3.5">2</tspan><tspan dy="-3.5"> (10</tspan><tspan class="sup" dy="-8.5">−9</tspan><tspan dy="8.5"> cm</tspan><tspan class="sup" dy="-8.5">2</tspan><tspan dy="8.5">/W)</tspan></text>
<g clip-path="url(#cpd)"><g filter="url(#cmd)">
<rect x="155.8" y="524.5" width="417.0" height="412.5" fill="#010101"/>
<g filter="url(#bld3)"><path d="M235.0 524.0C234.7 524.5 236.0 521.2 233.3 527.2C230.6 533.2 224.1 548.7 219.0 560.0C213.9 571.3 208.3 582.9 203.0 595.1C197.7 607.4 191.8 622.0 187.0 633.5C182.2 645.0 177.1 656.7 174.2 663.9C171.3 671.1 170.6 673.3 169.6 676.8C168.6 680.3 168.3 683.5 168.0 684.8" fill="none" stroke="url(#lg19)" stroke-width="6.5"/><path d="M263.7 524.0C263.4 524.5 264.8 521.7 262.1 527.2C259.4 532.7 252.8 546.5 247.7 556.8C242.6 567.0 237.0 577.8 231.7 588.7C226.4 599.6 221.1 611.1 215.8 622.3C210.5 633.5 204.1 646.9 199.8 655.9C195.6 664.9 193.7 668.5 190.3 676.0C186.9 683.5 182.4 692.9 179.2 700.8C176.0 708.6 172.9 717.8 171.2 723.1C169.5 728.4 169.2 731.1 168.8 732.7" fill="none" stroke="url(#lg20)" stroke-width="7.5"/><path d="M430.0 520.4L434.8 526.1L435.3 525.3L428.6 521.2L427.7 522.3L425.7 524.7L422.2 528.8L417.7 534.4L412.4 540.8L406.8 547.6L401.0 554.2L395.1 560.9L388.8 567.9L382.2 575.0L375.6 582.2L369.1 589.2L362.4 596.3L355.4 603.6L348.5 610.7L342.2 617.3L337.0 622.8L333.4 626.9L331.1 629.7L329.4 632.0L327.7 634.2L324.9 637.2L321.1 641.1L316.7 645.4L311.8 650.2L306.5 655.4L300.9 661.1L294.9 667.5L288.6 674.4L281.9 681.6L275.2 689.0L268.7 696.3L262.2 703.6L255.7 710.9L249.2 718.3L242.8 725.7L236.5 733.0L230.2 740.6L223.8 748.3L217.6 755.9L211.7 763.2L206.4 769.8L201.6 775.8L197.3 781.3L193.4 786.4L189.7 791.1L186.3 795.4L183.2 799.5L180.4 803.2L177.8 806.6L175.5 809.7L173.3 812.7L171.4 815.6L169.7 818.4L168.3 820.8L167.2 822.8L166.4 824.3L172.8 828.5L173.9 827.1L175.2 825.3L176.8 823.0L178.7 820.6L180.7 817.9L182.8 815.1L185.1 812.1L187.7 808.8L190.5 805.2L193.7 801.2L197.1 796.8L200.7 792.1L204.6 787.0L208.9 781.5L213.6 775.6L218.9 768.9L224.7 761.6L230.8 754.0L237.1 746.3L243.3 738.8L249.5 731.4L255.9 724.0L262.3 716.6L268.7 709.3L275.1 702.1L281.6 694.7L288.2 687.3L294.8 680.0L301.1 673.1L306.9 666.9L312.4 661.2L317.5 656.1L322.4 651.3L326.9 646.9L330.9 642.8L333.9 639.4L335.9 636.9L337.5 634.7L339.6 632.1L343.0 628.2L348.0 622.8L354.2 616.3L361.1 609.1L368.1 601.7L374.9 594.6L381.4 587.6L388.1 580.4L394.6 573.2L401.0 566.1L407.0 559.4L412.8 552.7L418.5 545.8L423.8 539.4L428.3 533.8L431.7 529.7L433.7 527.4L434.5 526.5L428.0 522.3L428.1 522.0L433.0 527.6Z" fill="url(#lg21)"/></g>
<g filter="url(#bld3_5)"><path d="M495.1 528.3L503.4 529.6L503.4 529.5L495.9 522.6L495.1 523.6L492.8 526.3L488.7 531.1L483.3 537.6L477.0 545.0L470.4 552.6L464.1 559.8L457.9 566.3L451.6 572.9L445.1 579.5L438.5 586.2L432.0 593.1L425.6 600.1L419.2 607.3L412.8 614.5L406.5 621.5L400.2 628.2L393.8 634.6L387.5 640.8L381.1 646.9L374.7 653.1L368.2 659.4L361.8 665.9L355.4 672.4L349.1 679.0L342.6 685.5L336.1 692.1L329.3 698.8L322.3 705.6L315.3 712.3L308.3 719.0L301.6 725.3L295.0 731.4L288.5 737.3L282.1 743.0L275.9 748.6L270.0 754.0L264.4 759.2L259.2 764.2L254.2 769.0L249.2 773.8L244.2 778.7L239.1 783.6L233.9 788.5L228.8 793.5L223.7 798.4L218.7 803.3L213.8 808.1L208.8 813.0L203.9 817.9L199.2 822.7L194.7 827.5L190.3 832.2L186.1 836.8L181.9 841.4L178.1 846.0L174.5 850.8L171.5 855.9L168.9 861.2L166.7 866.1L165.0 870.2L163.9 873.0L175.3 878.8L177.0 876.0L179.1 872.2L181.5 867.9L184.3 863.5L187.1 859.4L190.0 855.4L193.4 851.1L197.2 846.6L201.2 842.0L205.3 837.3L209.6 832.5L214.1 827.7L218.8 822.7L223.5 817.7L228.3 812.7L233.1 807.7L237.9 802.6L242.9 797.5L247.8 792.4L252.8 787.3L257.7 782.4L262.6 777.6L267.5 772.7L272.6 767.8L278.0 762.6L283.8 757.2L289.9 751.6L296.3 745.8L302.8 739.9L309.4 733.7L316.2 727.2L323.1 720.5L330.2 713.6L337.1 706.7L343.9 699.9L350.5 693.2L356.9 686.6L363.2 679.9L369.5 673.4L375.8 667.0L382.1 660.7L388.5 654.6L394.9 648.5L401.4 642.2L407.8 635.6L414.3 628.7L420.7 621.6L427.1 614.4L433.5 607.3L439.8 600.3L446.2 593.6L452.6 586.8L459.1 580.1L465.5 573.4L471.7 566.6L478.1 559.4L484.8 551.7L491.1 544.2L496.6 537.7L500.6 532.9L502.9 530.2L503.9 529.1L496.5 522.0L496.0 522.4L504.3 523.7Z" fill="url(#lg22)"/></g>
<g filter="url(#bld4_5)"><path d="M341.5 760.8L340.4 761.6L339.0 762.8L337.2 764.3L334.9 766.1L332.2 768.5L328.9 771.2L325.2 774.4L321.0 778.0L316.5 781.9L311.7 786.1L306.4 790.6L300.8 795.6L295.0 800.8L289.0 806.0L282.9 811.2L276.6 816.3L270.1 821.5L263.5 826.8L256.9 832.1L250.3 837.1L243.7 842.1L236.9 847.0L230.1 851.9L223.5 856.8L217.3 861.6L211.5 866.1L206.1 870.5L201.0 874.8L196.0 879.2L191.2 883.7L186.4 888.5L181.6 893.5L177.0 898.7L172.7 903.9L168.9 909.2L166.2 914.8L164.5 920.3L163.6 924.8L163.1 928.2L162.6 931.0L162.0 934.1L161.4 937.4L161.0 940.3L160.7 942.6L160.5 944.1L187.5 947.9L187.7 946.2L188.0 944.0L188.4 941.5L188.8 939.0L189.4 936.0L190.0 932.6L190.5 929.4L190.9 927.0L191.5 925.0L192.7 922.6L194.6 919.1L197.5 914.8L201.0 910.0L204.9 905.1L208.8 900.3L212.7 895.7L216.8 891.3L221.1 886.8L225.7 882.2L230.7 877.4L236.2 872.4L242.2 867.3L248.6 861.9L255.1 856.4L261.5 850.9L267.9 845.3L274.2 839.6L280.6 833.8L286.9 828.1L292.9 822.4L298.8 816.7L304.6 811.0L310.1 805.4L315.3 800.1L320.1 795.3L324.7 790.9L329.0 786.9L333.0 783.1L336.5 779.8L339.6 776.9L342.2 774.6L344.3 772.8L346.1 771.3L347.4 770.1L348.5 769.2Z" fill="url(#lg23)"/></g>
<g filter="url(#bld2)"><path d="M169.6 525.0C169.4 528.3 168.9 538.8 168.6 545.0C168.3 551.2 167.9 559.2 167.8 562.0" fill="none" stroke="url(#lg24)" stroke-width="3.0"/><path d="M168.8 732.7L168.0 752.0" fill="none" stroke="url(#lg25)" stroke-width="2.5"/><path d="M168.0 684.0L167.5 700.0" fill="none" stroke="url(#lg26)" stroke-width="2.5"/></g>
<g filter="url(#bld2_6)"><path d="M345.0 765.0C350.8 761.2 366.8 754.0 380.0 742.3C393.2 730.6 409.4 710.7 424.0 695.0C438.6 679.3 451.9 665.5 467.9 648.0C483.9 630.5 504.6 606.7 520.0 590.0C535.4 573.3 553.3 555.0 560.0 548.0" fill="none" stroke="url(#lg27)" stroke-width="5.0"/></g>
<g filter="url(#bld2_8)"><path d="M499.7 526.0C499.2 526.6 502.0 523.4 496.7 529.6C491.4 535.8 478.0 552.0 467.9 563.2C457.8 574.4 446.5 585.2 435.9 596.7C425.2 608.2 414.6 620.8 404.0 631.9C393.4 643.0 382.7 652.5 372.0 663.2C361.3 673.9 351.1 685.0 340.0 696.0C328.9 707.0 311.2 723.9 305.5 729.5" fill="none" stroke="url(#lg28)" stroke-width="6.0"/></g>
<g filter="url(#bld0_9)"><path d="M209.0 524.0C208.8 524.5 210.1 522.0 207.8 527.2C205.5 532.4 199.0 545.7 195.0 555.2C191.0 564.7 187.3 574.7 183.8 584.0C180.3 593.3 176.7 603.4 174.2 611.1C171.7 618.8 169.5 627.1 168.6 630.3" fill="none" stroke="url(#lg29)" stroke-width="1.9" stroke-dasharray="2.6 1.4"/></g>
<g filter="url(#bld1_6)"><path d="M236.0 523.2L236.3 524.1L236.3 523.6L233.8 523.0L233.3 524.1L232.1 526.7L230.1 531.3L227.4 537.6L224.2 544.8L220.9 552.3L217.8 559.4L214.7 566.2L211.4 573.1L208.2 580.1L204.9 587.2L201.6 594.5L198.3 602.1L194.9 610.0L191.6 617.9L188.3 625.6L185.3 632.8L182.4 639.7L179.6 646.4L176.9 652.7L174.5 658.4L172.6 663.2L171.1 667.1L170.1 670.0L169.4 672.4L168.8 674.4L168.3 676.4L167.8 678.6L167.5 680.5L167.3 682.2L167.2 683.6L167.1 684.7L168.9 684.9L169.1 683.9L169.4 682.6L169.8 681.0L170.3 679.1L170.9 677.2L171.6 675.2L172.3 673.3L173.1 671.1L174.3 668.3L175.8 664.6L177.8 659.7L180.2 654.1L182.9 647.8L185.8 641.1L188.7 634.2L191.6 627.0L194.8 619.2L198.0 611.2L201.2 603.3L204.4 595.7L207.6 588.4L210.8 581.3L214.0 574.3L217.2 567.4L220.2 560.6L223.4 553.4L226.7 545.8L229.8 538.6L232.5 532.4L234.5 527.7L235.7 525.2L236.1 524.3L233.7 523.6L233.7 523.8L234.0 524.8Z" fill="url(#lg30)"/></g>
<g filter="url(#bld1_7)"><path d="M262.7 523.0L265.0 524.5L265.1 524.2L262.5 523.2L262.0 524.2L260.8 526.6L258.8 530.8L256.1 536.4L252.9 542.9L249.6 549.7L246.4 556.2L243.3 562.4L240.1 568.7L236.8 575.0L233.6 581.5L230.3 588.0L227.1 594.6L223.8 601.3L220.5 608.0L217.3 614.8L214.0 621.5L210.6 628.4L207.1 635.5L203.7 642.5L200.5 649.0L197.6 654.8L195.2 659.6L193.3 663.6L191.6 667.2L189.8 670.8L187.9 674.9L185.8 679.6L183.5 684.6L181.2 689.8L179.0 695.0L177.0 699.9L175.2 704.8L173.4 709.8L171.8 714.5L170.5 718.8L169.3 722.5L168.6 725.5L168.2 727.9L167.9 729.9L167.8 731.3L167.8 732.5L169.8 732.9L170.3 731.8L170.7 730.5L171.3 728.7L172.0 726.5L173.1 723.7L174.3 720.1L175.9 715.9L177.6 711.3L179.5 706.4L181.4 701.7L183.5 696.9L185.8 691.9L188.2 686.8L190.5 681.8L192.7 677.1L194.6 673.0L196.2 669.4L197.9 665.8L199.8 661.8L202.0 657.0L204.7 651.1L207.8 644.4L211.0 637.3L214.4 630.1L217.6 623.1L220.7 616.3L223.8 609.5L226.9 602.7L230.0 596.0L233.1 589.4L236.3 582.8L239.5 576.4L242.7 570.0L245.9 563.6L249.0 557.4L252.1 550.9L255.5 544.1L258.6 537.6L261.3 532.0L263.4 527.8L264.5 525.4L265.0 524.5L262.5 523.3L262.4 523.5L264.7 525.0Z" fill="url(#lg31)"/></g>
<g filter="url(#bld1_5)"><path d="M430.9 522.7L432.7 524.8L433.0 524.3L430.5 522.9L429.6 523.9L427.6 526.3L424.2 530.4L419.6 536.0L414.3 542.4L408.7 549.2L402.9 555.9L397.0 562.5L390.7 569.5L384.1 576.7L377.5 583.9L370.9 590.9L364.2 598.0L357.2 605.3L350.3 612.5L344.0 619.0L338.9 624.5L335.3 628.5L333.1 631.3L331.4 633.5L329.6 635.8L326.8 638.9L322.9 642.9L318.4 647.2L313.5 652.0L308.2 657.2L302.7 662.9L296.8 669.1L290.4 676.0L283.8 683.3L277.1 690.7L270.6 698.0L264.1 705.2L257.6 712.5L251.1 719.9L244.7 727.3L238.4 734.7L232.1 742.2L225.8 749.9L219.6 757.5L213.7 764.8L208.3 771.4L203.6 777.4L199.3 782.8L195.3 787.9L191.7 792.6L188.3 797.0L185.2 801.0L182.4 804.7L179.8 808.1L177.5 811.2L175.4 814.1L173.5 817.0L171.8 819.7L170.4 822.2L169.3 824.2L168.5 825.7L170.7 827.1L171.8 825.8L173.1 823.9L174.7 821.7L176.6 819.1L178.6 816.5L180.8 813.6L183.1 810.6L185.7 807.3L188.5 803.7L191.7 799.6L195.1 795.2L198.7 790.5L202.6 785.5L206.9 780.0L211.7 774.0L216.9 767.4L222.7 760.1L228.9 752.4L235.1 744.7L241.4 737.1L247.6 729.8L254.0 722.4L260.4 715.0L266.8 707.7L273.2 700.4L279.7 693.1L286.4 685.6L292.9 678.4L299.3 671.4L305.1 665.1L310.6 659.5L315.8 654.3L320.7 649.5L325.1 645.1L329.0 641.1L332.0 637.8L333.9 635.4L335.5 633.2L337.7 630.5L341.1 626.5L346.2 621.1L352.4 614.5L359.3 607.4L366.3 600.0L373.1 592.9L379.6 585.9L386.2 578.7L392.8 571.5L399.1 564.5L405.1 557.7L410.9 551.0L416.6 544.2L421.9 537.8L426.4 532.3L429.8 528.1L431.8 525.8L432.6 524.8L430.3 523.2L430.2 523.3L432.1 525.3Z" fill="url(#lg32)"/></g>
<g filter="url(#bld2_0)"><path d="M497.8 527.0L501.2 527.5L501.4 527.3L498.3 524.5L497.4 525.5L495.1 528.2L491.0 533.0L485.6 539.5L479.3 546.9L472.7 554.6L466.3 561.8L460.1 568.4L453.7 575.0L447.2 581.6L440.7 588.3L434.2 595.1L427.8 602.1L421.4 609.3L415.0 616.5L408.7 623.5L402.3 630.3L396.0 636.7L389.6 642.9L383.2 649.1L376.8 655.2L370.3 661.5L363.9 668.0L357.6 674.5L351.2 681.0L344.8 687.6L338.2 694.2L331.4 700.9L324.4 707.7L317.4 714.5L310.4 721.1L303.6 727.5L297.0 733.6L290.5 739.5L284.1 745.2L277.9 750.8L272.0 756.2L266.5 761.4L261.3 766.3L256.3 771.2L251.4 775.9L246.4 780.8L241.2 785.7L236.0 790.6L230.9 795.6L225.8 800.5L220.8 805.4L215.9 810.3L211.0 815.1L206.1 820.0L201.4 824.8L196.9 829.5L192.5 834.2L188.3 838.8L184.2 843.3L180.4 847.9L176.9 852.5L174.1 857.5L171.5 862.6L169.4 867.4L167.7 871.5L166.6 874.4L172.6 877.4L174.3 874.7L176.4 870.9L178.9 866.5L181.7 862.0L184.7 857.7L187.7 853.5L191.1 849.1L194.9 844.6L199.0 840.0L203.1 835.3L207.4 830.5L211.9 825.6L216.6 820.6L221.4 815.6L226.2 810.6L231.0 805.6L235.8 800.5L240.7 795.4L245.7 790.3L250.6 785.2L255.6 780.3L260.5 775.4L265.4 770.6L270.5 765.6L276.0 760.4L281.8 755.0L287.9 749.4L294.3 743.6L300.8 737.7L307.4 731.5L314.1 725.0L321.0 718.3L328.1 711.4L335.0 704.6L341.8 697.8L348.4 691.1L354.8 684.5L361.1 677.9L367.3 671.3L373.7 664.9L380.0 658.6L386.4 652.4L392.8 646.3L399.3 640.0L405.7 633.5L412.1 626.7L418.5 619.6L424.9 612.4L431.3 605.3L437.6 598.3L444.0 591.5L450.5 584.8L456.9 578.1L463.3 571.4L469.5 564.6L475.9 557.4L482.5 549.7L488.8 542.3L494.3 535.8L498.3 531.0L500.6 528.3L501.5 527.2L498.5 524.2L498.2 524.5L501.6 525.0Z" fill="url(#lg33)"/><path d="M344.4 764.3L343.3 765.1L341.9 766.2L340.1 767.7L337.8 769.5L335.2 771.9L331.9 774.6L328.2 777.7L324.0 781.3L319.5 785.2L314.7 789.4L309.5 793.9L303.9 798.9L298.0 804.1L292.0 809.3L285.9 814.5L279.6 819.7L273.1 825.0L266.4 830.3L259.7 835.5L253.1 840.6L246.5 845.6L239.7 850.6L232.9 855.5L226.4 860.3L220.2 865.0L214.5 869.5L209.2 873.8L204.1 878.0L199.2 882.3L194.4 886.8L189.7 891.5L185.0 896.4L180.5 901.5L176.4 906.4L172.9 911.4L170.4 916.5L168.9 921.4L168.0 925.6L167.5 929.0L167.0 931.8L166.4 934.9L165.9 938.1L165.5 940.9L165.2 943.2L165.0 944.7L183.0 947.3L183.3 945.6L183.6 943.4L183.9 940.9L184.4 938.2L185.0 935.2L185.6 931.9L186.0 928.7L186.6 925.9L187.4 923.3L188.7 920.4L190.9 916.6L193.9 912.0L197.6 907.1L201.5 902.1L205.6 897.2L209.5 892.6L213.6 888.0L218.0 883.5L222.7 878.8L227.8 874.0L233.4 868.9L239.4 863.7L245.8 858.4L252.3 852.9L258.7 847.4L265.0 841.8L271.4 836.1L277.7 830.4L283.9 824.7L289.9 819.1L295.8 813.4L301.5 807.7L307.0 802.1L312.2 796.8L317.1 792.0L321.7 787.6L326.0 783.5L330.0 779.8L333.6 776.4L336.6 773.5L339.3 771.2L341.4 769.3L343.2 767.8L344.6 766.6L345.6 765.7Z" fill="url(#lg34)"/></g>
<g filter="url(#bld0_8)"><path d="M431.5 524.0C431.0 524.5 433.3 521.7 428.7 527.2C424.1 532.7 413.4 546.0 404.0 556.8C394.6 567.6 382.7 580.4 372.0 591.9C361.3 603.4 347.4 617.5 340.0 625.5C332.6 633.5 333.9 633.6 327.9 640.0C321.9 646.4 313.2 654.1 303.9 664.0C294.6 673.9 282.6 687.2 271.9 699.2C261.2 711.2 250.2 723.6 239.9 735.9C229.6 748.1 218.3 762.3 210.0 772.7C201.7 783.1 195.5 791.2 190.0 798.3C184.5 805.4 180.4 810.6 177.0 815.3C173.6 820.0 170.8 824.5 169.6 826.4" fill="none" stroke="url(#lg35)" stroke-width="7.0" stroke-dasharray="1.7 3.7"/></g>
</g></g>
<path clip-path="url(#cld)" d="M507.5 524.0C506.5 525.7 505.2 528.0 501.5 534.4C497.8 540.8 490.7 553.2 485.5 562.4C480.3 571.6 475.5 580.5 470.3 589.5C465.1 598.5 459.5 607.6 454.3 616.7C449.1 625.8 444.3 635.0 439.1 643.9C433.9 652.8 428.8 661.6 423.1 670.3C417.4 679.0 410.8 687.5 404.7 696.0C398.6 704.5 392.4 713.2 386.4 721.5C380.4 729.8 374.0 738.2 368.8 745.5C363.6 752.8 358.8 760.1 355.0 765.5C351.2 770.9 352.4 770.8 345.9 778.0C339.5 785.2 326.1 798.6 316.2 808.9C306.3 819.3 296.5 829.6 286.7 839.9C276.9 850.3 266.3 861.5 257.3 871.0C248.2 880.4 239.3 889.0 232.4 896.5C225.6 904.1 221.6 911.0 216.4 916.0C211.2 921.0 206.0 923.4 201.3 926.8C196.6 930.2 192.6 933.2 188.4 936.4C184.2 939.6 178.0 944.3 175.9 945.9" fill="none" stroke="#269426" stroke-width="5.6" stroke-dasharray="24 7.3"/>
<path clip-path="url(#cld)" d="M612.2 515.0C607.5 519.2 594.2 530.8 584.2 540.0C574.2 549.2 562.7 560.0 552.3 570.0C541.9 580.0 531.8 590.0 521.9 600.0C511.9 610.0 502.2 620.0 492.6 630.0C482.9 640.0 473.4 650.0 463.9 660.0C454.4 670.0 445.0 680.0 435.6 690.0C426.1 700.0 416.6 710.0 407.0 720.0C397.4 730.0 387.8 740.0 378.0 750.0C368.1 760.0 358.1 770.0 347.9 780.0C337.8 790.0 327.5 800.0 317.3 810.0C307.1 820.0 296.9 830.0 286.8 840.0C276.6 850.0 265.6 860.8 256.3 870.0C247.0 879.2 237.9 887.6 230.9 895.0C223.9 902.4 219.7 909.1 214.5 914.1C209.3 919.1 204.1 921.5 199.4 924.9C194.7 928.3 190.7 931.3 186.5 934.5C182.3 937.7 176.1 942.4 174.0 944.0" fill="none" stroke="#269426" stroke-width="5.9"/>
<rect x="157.8" y="526.5" width="413.0" height="408.5" fill="none" stroke="#000" stroke-width="0.9"/>
<path d="M157.8 935.0v4.7" stroke="#000" stroke-width="0.9"/>
<text x="157.8" y="962.8" text-anchor="middle" class="t">300</text>
<path d="M216.8 935.0v4.7" stroke="#000" stroke-width="0.9"/>
<text x="216.8" y="962.8" text-anchor="middle" class="t">400</text>
<path d="M275.8 935.0v4.7" stroke="#000" stroke-width="0.9"/>
<text x="275.8" y="962.8" text-anchor="middle" class="t">500</text>
<path d="M334.8 935.0v4.7" stroke="#000" stroke-width="0.9"/>
<text x="334.8" y="962.8" text-anchor="middle" class="t">600</text>
<path d="M393.8 935.0v4.7" stroke="#000" stroke-width="0.9"/>
<text x="393.8" y="962.8" text-anchor="middle" class="t">700</text>
<path d="M452.8 935.0v4.7" stroke="#000" stroke-width="0.9"/>
<text x="452.8" y="962.8" text-anchor="middle" class="t">800</text>
<path d="M511.8 935.0v4.7" stroke="#000" stroke-width="0.9"/>
<text x="511.8" y="962.8" text-anchor="middle" class="t">900</text>
<path d="M570.8 935.0v4.7" stroke="#000" stroke-width="0.9"/>
<text x="570.8" y="962.8" text-anchor="middle" class="t">1000</text>
<path d="M157.8 902.8h-4.7" stroke="#000" stroke-width="0.9"/>
<text x="147.6" y="912.0" text-anchor="end" class="t">25</text>
<path d="M157.8 849.0h-4.7" stroke="#000" stroke-width="0.9"/>
<text x="147.6" y="858.3" text-anchor="end" class="t">50</text>
<path d="M157.8 795.2h-4.7" stroke="#000" stroke-width="0.9"/>
<text x="147.6" y="804.5" text-anchor="end" class="t">75</text>
<path d="M157.8 741.5h-4.7" stroke="#000" stroke-width="0.9"/>
<text x="147.6" y="750.8" text-anchor="end" class="t">100</text>
<path d="M157.8 687.8h-4.7" stroke="#000" stroke-width="0.9"/>
<text x="147.6" y="697.0" text-anchor="end" class="t">125</text>
<path d="M157.8 634.0h-4.7" stroke="#000" stroke-width="0.9"/>
<text x="147.6" y="643.3" text-anchor="end" class="t">150</text>
<path d="M157.8 580.2h-4.7" stroke="#000" stroke-width="0.9"/>
<text x="147.6" y="589.5" text-anchor="end" class="t">175</text>
<path d="M157.8 526.5h-4.7" stroke="#000" stroke-width="0.9"/>
<text x="147.6" y="535.8" text-anchor="end" class="t">200</text>
<text x="364.3" y="992.4" text-anchor="middle" class="t">Wavelength (nm)</text>
<text transform="translate(92.7 730.8) rotate(-90)" text-anchor="middle" class="t">Dielectric thickness (nm)</text>
<rect x="573.0" y="545.4" width="20.7" height="389.6" fill="url(#cbgd)"/>
<path d="M573.0 545.7L583.4 526.1L593.7 545.7Z" fill="#fcffa4"/>
<path d="M573.0 935.0L573.0 545.4L583.4 526.1L593.7 545.4L593.7 935.0Z" fill="none" stroke="#000" stroke-width="0.9" stroke-linejoin="miter"/>
<path d="M593.7 935.0h4.7" stroke="#000" stroke-width="0.9"/>
<text x="603.9" y="943.3" class="t">0</text>
<path d="M593.7 837.6h4.7" stroke="#000" stroke-width="0.9"/>
<text x="603.9" y="845.9" class="t">1</text>
<path d="M593.7 740.2h4.7" stroke="#000" stroke-width="0.9"/>
<text x="603.9" y="748.5" class="t">2</text>
<path d="M593.7 642.8h4.7" stroke="#000" stroke-width="0.9"/>
<text x="603.9" y="651.1" class="t">3</text>
<path d="M593.7 545.4h4.7" stroke="#000" stroke-width="0.9"/>
<text x="603.9" y="553.7" class="t">4</text>
<text transform="translate(625.6 738.7) rotate(90)" text-anchor="middle" class="t">FOM</text>
<g clip-path="url(#cpe)"><g filter="url(#cme)">
<rect x="798.0" y="524.7" width="415.0" height="412.3" fill="#808080"/>
<g filter="url(#ble10)"><path d="M760.0 486.7L1250.2 510.8L1243.0 517.1L1232.8 526.1L1222.1 535.8L1211.7 545.4L1200.9 555.6L1190.2 565.8L1180.0 575.8L1169.8 585.8L1159.8 595.8L1150.0 605.8L1140.2 615.8L1130.5 625.8L1120.9 635.8L1111.4 645.8L1101.9 655.8L1092.4 665.8L1083.0 675.8L1073.5 685.8L1064.0 695.8L1054.6 705.8L1045.0 715.8L1035.4 725.8L1025.7 735.8L1015.9 745.8L1006.0 755.8L996.0 765.8L985.9 775.8L975.7 785.8L965.5 795.8L955.2 805.8L945.0 815.8L934.9 825.8L924.7 835.8L914.4 845.9L904.0 856.1L894.3 865.8L885.1 874.7L876.5 883.0L868.8 890.8L862.7 897.9L857.5 904.3L852.5 909.9L847.2 914.1L842.2 917.5L837.4 920.7L832.9 923.9L828.6 927.1L824.5 930.3L819.8 933.8L815.2 937.3L812.0 939.8L760.0 975.0Z" fill="url(#rg36)"/></g>
<g filter="url(#ble7)"><path d="M822.0 943.0L852.0 516.7" fill="none" stroke="url(#lg37)" stroke-width="16.0"/><path d="M822.0 943.0L910.0 516.7" fill="none" stroke="url(#lg38)" stroke-width="16.0"/><path d="M822.0 943.0L980.0 516.7" fill="none" stroke="url(#lg39)" stroke-width="16.0"/><path d="M822.0 943.0L1050.0 516.7" fill="none" stroke="url(#lg40)" stroke-width="16.0"/></g>
<g filter="url(#ble25)"><path d="M1279.9 540.5C1278.7 541.5 1275.6 544.2 1272.7 546.8C1269.8 549.3 1266.0 552.7 1262.5 555.8C1259.0 558.9 1255.3 562.2 1251.8 565.5C1248.3 568.7 1245.0 571.8 1241.4 575.1C1237.9 578.4 1234.2 581.9 1230.6 585.3C1227.0 588.7 1223.4 592.1 1219.9 595.5C1216.5 598.8 1213.1 602.1 1209.7 605.5C1206.3 608.8 1202.9 612.1 1199.5 615.5C1196.2 618.8 1192.9 622.1 1189.5 625.5C1186.2 628.8 1182.9 632.1 1179.7 635.5C1176.4 638.8 1173.1 642.1 1169.9 645.5C1166.7 648.8 1163.4 652.1 1160.2 655.5C1157.0 658.8 1153.8 662.1 1150.6 665.5C1147.4 668.8 1144.3 672.1 1141.1 675.5C1137.9 678.8 1134.8 682.1 1131.6 685.5C1128.4 688.8 1125.3 692.1 1122.1 695.5C1119.0 698.8 1115.8 702.1 1112.7 705.5C1109.5 708.8 1106.4 712.1 1103.2 715.5C1100.1 718.8 1096.9 722.1 1093.7 725.5C1090.6 728.8 1087.4 732.1 1084.3 735.5C1081.1 738.8 1077.9 742.1 1074.7 745.5C1071.5 748.8 1068.3 752.1 1065.1 755.5C1061.9 758.8 1058.7 762.1 1055.4 765.5C1052.2 768.8 1048.9 772.1 1045.6 775.5C1042.3 778.8 1039.0 782.1 1035.7 785.5C1032.4 788.8 1029.0 792.1 1025.7 795.5C1022.3 798.8 1019.0 802.1 1015.6 805.5C1012.2 808.8 1008.8 812.1 1005.4 815.5C1002.0 818.8 998.6 822.1 995.2 825.5C991.7 828.8 988.3 832.1 984.9 835.5C981.5 838.8 978.1 842.1 974.7 845.5C971.4 848.8 968.0 852.1 964.6 855.5C961.2 858.8 957.9 862.1 954.4 865.5C951.0 868.8 947.5 872.2 944.1 875.6C940.6 879.0 937.1 882.5 933.7 885.8C930.4 889.1 927.1 892.4 923.9 895.5C920.8 898.5 917.7 901.5 914.8 904.4C911.8 907.3 908.9 910.1 906.2 912.7C903.5 915.4 900.8 918.0 898.5 920.5C896.2 922.9 894.3 925.3 892.4 927.6C890.5 929.8 888.9 932.0 887.2 934.0C885.5 936.0 883.9 937.9 882.2 939.6C880.4 941.2 878.7 942.5 876.9 943.8C875.2 945.1 873.5 946.1 871.9 947.2C870.2 948.2 868.6 949.3 867.1 950.4C865.5 951.4 864.0 952.6 862.6 953.6C861.1 954.7 859.7 955.8 858.3 956.8C856.9 957.9 855.6 958.8 854.2 960.0C852.7 961.1 851.0 962.3 849.5 963.5C848.0 964.7 846.2 966.0 844.9 967.0C843.6 968.0 842.2 969.0 841.7 969.5" fill="none" stroke="url(#lg41)" stroke-width="74.0"/></g>
<g filter="url(#ble9)"><path d="M1265.7 526.3C1264.5 527.4 1261.5 530.0 1258.6 532.6C1255.7 535.2 1251.8 538.6 1248.4 541.7C1244.9 544.8 1241.2 548.1 1237.7 551.3C1234.2 554.5 1230.8 557.6 1227.3 560.9C1223.8 564.2 1220.0 567.7 1216.5 571.1C1212.9 574.5 1209.3 577.9 1205.8 581.3C1202.3 584.7 1198.9 588.0 1195.5 591.3C1192.1 594.6 1188.8 598.0 1185.4 601.3C1182.0 604.6 1178.7 608.0 1175.4 611.3C1172.1 614.6 1168.8 618.0 1165.5 621.3C1162.3 624.6 1159.0 628.0 1155.8 631.3C1152.5 634.6 1149.3 638.0 1146.1 641.3C1142.9 644.6 1139.7 648.0 1136.5 651.3C1133.3 654.6 1130.1 658.0 1126.9 661.3C1123.8 664.6 1120.6 668.0 1117.4 671.3C1114.3 674.6 1111.1 678.0 1108.0 681.3C1104.8 684.6 1101.7 688.0 1098.5 691.3C1095.4 694.6 1092.2 698.0 1089.1 701.3C1085.9 704.6 1082.8 708.0 1079.6 711.3C1076.4 714.6 1073.3 718.0 1070.1 721.3C1066.9 724.6 1063.8 728.0 1060.6 731.3C1057.4 734.6 1054.2 738.0 1050.9 741.3C1047.7 744.6 1044.5 748.0 1041.3 751.3C1038.0 754.6 1034.8 758.0 1031.5 761.3C1028.2 764.6 1024.9 768.0 1021.6 771.3C1018.3 774.6 1014.9 778.0 1011.6 781.3C1008.2 784.6 1004.8 788.0 1001.5 791.3C998.1 794.6 994.7 798.0 991.3 801.3C987.9 804.6 984.4 808.0 981.0 811.3C977.6 814.6 974.2 818.0 970.8 821.3C967.4 824.6 964.0 828.0 960.6 831.3C957.2 834.6 953.8 838.0 950.4 841.3C947.1 844.6 943.7 847.9 940.3 851.3C936.9 854.7 933.4 858.1 929.9 861.5C926.5 864.9 922.9 868.4 919.6 871.7C916.2 875.0 913.0 878.2 909.8 881.3C906.6 884.4 903.6 887.4 900.6 890.2C897.7 893.1 894.7 895.9 892.0 898.6C889.3 901.3 886.7 903.8 884.4 906.3C882.1 908.8 880.1 911.2 878.2 913.4C876.3 915.7 874.7 917.9 873.0 919.9C871.3 921.9 869.7 923.8 868.0 925.4C866.3 927.0 864.5 928.4 862.8 929.7C861.1 930.9 859.4 931.9 857.7 933.0C856.1 934.1 854.5 935.1 852.9 936.2C851.4 937.3 849.9 938.4 848.4 939.5C847.0 940.6 845.6 941.6 844.2 942.7C842.8 943.7 841.5 944.7 840.0 945.8C838.5 946.9 836.9 948.2 835.4 949.3C833.8 950.5 832.0 951.9 830.7 952.9C829.4 953.9 828.1 954.9 827.5 955.3" fill="none" stroke="url(#lg42)" stroke-width="26.0"/></g>
<g filter="url(#ble4_5)"><path d="M1246.6 507.2C1245.5 508.3 1242.6 511.2 1239.9 513.9C1237.1 516.6 1233.4 520.1 1230.0 523.3C1226.7 526.6 1223.1 530.0 1219.7 533.3C1216.3 536.7 1213.1 539.9 1209.7 543.3C1206.3 546.8 1202.7 550.4 1199.2 553.9C1195.8 557.4 1192.3 561.0 1189.0 564.5C1185.7 568.0 1182.4 571.5 1179.2 575.0C1176.0 578.5 1172.8 582.0 1169.6 585.5C1166.4 589.0 1163.2 592.5 1160.1 596.0C1156.9 599.5 1153.8 603.0 1150.7 606.5C1147.6 610.0 1144.5 613.5 1141.5 617.0C1138.4 620.5 1135.4 624.1 1132.4 627.6C1129.3 631.1 1126.4 634.7 1123.4 638.2C1120.4 641.8 1117.4 645.3 1114.5 648.8C1111.5 652.4 1108.5 655.9 1105.6 659.5C1102.6 663.0 1099.7 666.5 1096.7 670.1C1093.8 673.6 1090.9 677.2 1087.9 680.7C1085.0 684.2 1081.9 687.7 1078.9 691.1C1075.9 694.6 1072.9 698.1 1069.9 701.6C1066.9 705.1 1063.8 708.5 1060.8 712.0C1057.8 715.5 1054.7 719.0 1051.7 722.5C1048.7 725.9 1045.6 729.4 1042.5 732.9C1039.4 736.4 1036.4 739.8 1033.2 743.3C1030.1 746.7 1026.9 750.1 1023.7 753.5C1020.5 756.9 1017.3 760.3 1014.0 763.8C1010.8 767.2 1007.5 770.6 1004.3 774.0C1001.0 777.4 997.7 780.8 994.4 784.3C991.1 787.7 987.8 791.1 984.5 794.5C981.1 797.9 977.7 801.3 974.3 804.6C971.0 808.0 967.5 811.3 964.2 814.7C960.8 818.1 957.4 821.4 954.1 824.8C950.7 828.1 947.3 831.5 944.0 834.8C940.6 838.2 937.3 841.5 933.9 844.9C930.5 848.3 927.0 851.7 923.6 855.1C920.1 858.5 916.6 862.0 913.2 865.3C909.9 868.6 906.6 871.9 903.4 874.9C900.3 878.0 897.2 881.0 894.3 883.9C891.3 886.8 888.4 889.6 885.6 892.2C882.9 894.9 880.3 897.5 878.0 899.9C875.7 902.4 873.8 904.8 871.9 907.1C870.0 909.3 868.4 911.5 866.7 913.5C865.0 915.5 863.4 917.4 861.6 919.0C859.9 920.7 858.2 922.0 856.4 923.3C854.7 924.6 853.0 925.6 851.4 926.6C849.7 927.7 848.1 928.8 846.5 929.8C845.0 930.9 843.5 932.1 842.1 933.1C840.6 934.2 839.2 935.3 837.8 936.3C836.4 937.4 835.1 938.3 833.6 939.4C832.2 940.6 830.5 941.8 829.0 943.0C827.4 944.1 825.7 945.5 824.4 946.5C823.1 947.5 821.7 948.5 821.1 948.9" fill="none" stroke="url(#lg43)" stroke-width="12.0"/></g>
<g filter="url(#ble16)"><path d="M1074.0 647.4C1072.5 649.0 1067.7 654.0 1064.6 657.4C1061.4 660.7 1058.3 664.0 1055.1 667.4C1052.0 670.7 1048.8 674.0 1045.7 677.4C1042.5 680.7 1039.3 684.0 1036.2 687.4C1033.0 690.7 1029.8 694.0 1026.6 697.4C1023.4 700.7 1020.2 704.0 1017.0 707.4C1013.8 710.7 1010.6 714.0 1007.3 717.4C1004.1 720.7 1000.8 724.0 997.5 727.4C994.3 730.7 991.0 734.0 987.6 737.4C984.3 740.7 981.0 744.0 977.6 747.4C974.3 750.7 970.9 754.0 967.5 757.4C964.1 760.7 960.7 764.0 957.3 767.4C953.9 770.7 950.5 774.0 947.1 777.4C943.7 780.7 940.2 784.0 936.8 787.4C933.4 790.7 930.1 794.0 926.7 797.4C923.3 800.7 919.9 804.0 916.5 807.4C913.1 810.7 909.8 814.0 906.4 817.4C902.9 820.7 899.5 824.2 896.0 827.6C892.6 831.0 889.0 834.4 885.7 837.7C882.3 841.0 879.0 844.3 875.9 847.4C872.7 850.5 869.7 853.4 866.7 856.3C863.7 859.2 860.8 862.0 858.1 864.7C855.4 867.3 852.8 869.9 850.5 872.4C848.2 874.8 846.2 877.2 844.3 879.5C842.4 881.7 840.8 883.9 839.1 885.9C837.4 887.9 835.8 889.8 834.1 891.5C832.4 893.1 830.6 894.5 828.9 895.7C827.1 897.0 825.4 898.0 823.8 899.1C822.1 900.2 820.5 901.2 819.0 902.3C817.4 903.4 815.9 904.5 814.5 905.6C813.0 906.6 811.7 907.7 810.3 908.7C808.9 909.8 807.5 910.8 806.1 911.9C804.6 913.0 803.0 914.2 801.4 915.4C799.9 916.6 798.1 917.9 796.8 918.9C795.5 919.9 794.1 921.0 793.6 921.4" fill="none" stroke="url(#lg44)" stroke-width="50.0"/></g>
<g filter="url(#ble8)"><path d="M1086.1 659.4C1084.5 661.1 1079.8 666.1 1076.6 669.4C1073.5 672.7 1070.3 676.1 1067.2 679.4C1064.0 682.7 1060.8 686.1 1057.7 689.4C1054.5 692.7 1051.4 696.1 1048.2 699.4C1045.0 702.7 1041.8 706.1 1038.6 709.4C1035.4 712.7 1032.2 716.1 1029.0 719.4C1025.8 722.7 1022.6 726.1 1019.4 729.4C1016.1 732.7 1012.9 736.1 1009.6 739.4C1006.3 742.7 1003.0 746.1 999.7 749.4C996.3 752.7 993.0 756.1 989.6 759.4C986.3 762.7 982.9 766.1 979.5 769.4C976.2 772.7 972.8 776.1 969.4 779.4C965.9 782.7 962.5 786.1 959.1 789.4C955.7 792.7 952.3 796.1 948.9 799.4C945.5 802.7 942.1 806.1 938.7 809.4C935.3 812.7 931.9 816.1 928.5 819.4C925.1 822.7 921.8 826.0 918.4 829.4C915.0 832.8 911.5 836.2 908.0 839.6C904.6 843.0 901.0 846.5 897.7 849.8C894.3 853.1 891.0 856.3 887.9 859.4C884.7 862.5 881.7 865.4 878.7 868.3C875.7 871.2 872.8 874.0 870.1 876.7C867.4 879.4 864.8 881.9 862.5 884.4C860.2 886.9 858.2 889.2 856.3 891.5C854.4 893.8 852.8 896.0 851.1 898.0C849.4 900.0 847.8 901.9 846.1 903.5C844.4 905.1 842.6 906.5 840.9 907.8C839.2 909.0 837.5 910.0 835.8 911.1C834.2 912.2 832.5 913.2 831.0 914.3C829.4 915.4 828.0 916.5 826.5 917.6C825.1 918.7 823.7 919.7 822.3 920.7C820.9 921.8 819.6 922.8 818.1 923.9C816.6 925.0 815.0 926.2 813.4 927.4C811.9 928.6 810.1 929.9 808.8 930.9C807.5 931.9 806.1 933.0 805.6 933.4" fill="none" stroke="url(#lg45)" stroke-width="24.0"/><path d="M1146.0 515.0C1138.3 528.5 1116.0 568.8 1100.0 596.0C1084.0 623.2 1064.0 654.8 1050.0 678.0C1036.0 701.2 1026.5 718.3 1015.7 735.0C1004.9 751.7 990.1 770.8 985.0 778.0" fill="none" stroke="url(#lg46)" stroke-width="18.0"/></g>
<g filter="url(#ble4)"><path d="M1092.4 665.8C1090.8 667.4 1086.1 672.4 1083.0 675.8C1079.8 679.1 1076.7 682.4 1073.5 685.8C1070.4 689.1 1067.2 692.4 1064.0 695.8C1060.9 699.1 1057.7 702.4 1054.6 705.8C1051.4 709.1 1048.2 712.4 1045.0 715.8C1041.8 719.1 1038.6 722.4 1035.4 725.8C1032.2 729.1 1029.0 732.4 1025.7 735.8C1022.5 739.1 1019.2 742.4 1015.9 745.8C1012.7 749.1 1009.3 752.4 1006.0 755.8C1002.7 759.1 999.3 762.4 996.0 765.8C992.6 769.1 989.3 772.4 985.9 775.8C982.5 779.1 979.1 782.4 975.7 785.8C972.3 789.1 968.9 792.4 965.5 795.8C962.0 799.1 958.6 802.4 955.2 805.8C951.8 809.1 948.4 812.4 945.0 815.8C941.7 819.1 938.3 822.4 934.9 825.8C931.5 829.1 928.2 832.4 924.7 835.8C921.3 839.1 917.8 842.5 914.4 845.9C910.9 849.3 907.4 852.8 904.0 856.1C900.7 859.4 897.4 862.7 894.3 865.8C891.1 868.8 888.0 871.8 885.1 874.7C882.1 877.6 879.2 880.4 876.5 883.0C873.8 885.7 871.1 888.3 868.8 890.8C866.5 893.2 864.6 895.6 862.7 897.9C860.8 900.1 859.2 902.3 857.5 904.3C855.8 906.3 854.2 908.2 852.5 909.9C850.8 911.5 849.0 912.9 847.2 914.1C845.5 915.4 843.8 916.4 842.2 917.5C840.5 918.5 838.9 919.6 837.4 920.7C835.8 921.7 834.3 922.9 832.9 923.9C831.4 925.0 830.0 926.1 828.6 927.1C827.2 928.2 825.9 929.1 824.5 930.3C823.0 931.4 821.3 932.6 819.8 933.8C818.3 935.0 816.5 936.3 815.2 937.3C813.9 938.3 812.5 939.3 812.0 939.8" fill="none" stroke="url(#lg47)" stroke-width="10.0"/><path d="M790.0 916.0L806.0 919.0L812.0 930.0L814.0 950.0L790.0 950.0Z" fill="#000" fill-opacity="0.600"/></g>
<g filter="url(#ble3)"><path d="M822.0 950.0L830.0 928.0L844.0 914.0L858.0 908.0L850.0 918.0L838.0 928.0L830.0 950.0Z" fill="#fff" fill-opacity="0.900"/></g>
</g></g>
<path clip-path="url(#cle)" d="M1254.4 515.0C1249.7 519.2 1236.4 530.8 1226.4 540.0C1216.4 549.2 1204.9 560.0 1194.5 570.0C1184.1 580.0 1174.0 590.0 1164.1 600.0C1154.1 610.0 1144.4 620.0 1134.8 630.0C1125.1 640.0 1115.6 650.0 1106.1 660.0C1096.6 670.0 1087.2 680.0 1077.8 690.0C1068.3 700.0 1058.8 710.0 1049.2 720.0C1039.6 730.0 1030.0 740.0 1020.2 750.0C1010.3 760.0 1000.3 770.0 990.1 780.0C980.0 790.0 969.7 800.0 959.5 810.0C949.3 820.0 939.1 830.0 929.0 840.0C918.8 850.0 907.8 860.8 898.5 870.0C889.2 879.2 880.1 887.6 873.1 895.0C866.1 902.4 861.9 909.1 856.7 914.1C851.5 919.1 846.3 921.5 841.6 924.9C836.9 928.3 832.9 931.3 828.7 934.5C824.5 937.7 818.3 942.4 816.2 944.0" fill="none" stroke="#269426" stroke-width="5.2"/>
<rect x="800.0" y="526.7" width="411.0" height="408.3" fill="none" stroke="#000" stroke-width="0.9"/>
<path d="M800.0 935.0v4.7" stroke="#000" stroke-width="0.9"/>
<text x="800.0" y="962.8" text-anchor="middle" class="t">300</text>
<path d="M858.7 935.0v4.7" stroke="#000" stroke-width="0.9"/>
<text x="858.7" y="962.8" text-anchor="middle" class="t">400</text>
<path d="M917.4 935.0v4.7" stroke="#000" stroke-width="0.9"/>
<text x="917.4" y="962.8" text-anchor="middle" class="t">500</text>
<path d="M976.1 935.0v4.7" stroke="#000" stroke-width="0.9"/>
<text x="976.1" y="962.8" text-anchor="middle" class="t">600</text>
<path d="M1034.9 935.0v4.7" stroke="#000" stroke-width="0.9"/>
<text x="1034.9" y="962.8" text-anchor="middle" class="t">700</text>
<path d="M1093.6 935.0v4.7" stroke="#000" stroke-width="0.9"/>
<text x="1093.6" y="962.8" text-anchor="middle" class="t">800</text>
<path d="M1152.3 935.0v4.7" stroke="#000" stroke-width="0.9"/>
<text x="1152.3" y="962.8" text-anchor="middle" class="t">900</text>
<path d="M1211.0 935.0v4.7" stroke="#000" stroke-width="0.9"/>
<text x="1211.0" y="962.8" text-anchor="middle" class="t">1000</text>
<path d="M800.0 902.8h-4.7" stroke="#000" stroke-width="0.9"/>
<text x="789.8" y="912.1" text-anchor="end" class="t">25</text>
<path d="M800.0 849.0h-4.7" stroke="#000" stroke-width="0.9"/>
<text x="789.8" y="858.3" text-anchor="end" class="t">50</text>
<path d="M800.0 795.3h-4.7" stroke="#000" stroke-width="0.9"/>
<text x="789.8" y="804.6" text-anchor="end" class="t">75</text>
<path d="M800.0 741.6h-4.7" stroke="#000" stroke-width="0.9"/>
<text x="789.8" y="750.9" text-anchor="end" class="t">100</text>
<path d="M800.0 687.9h-4.7" stroke="#000" stroke-width="0.9"/>
<text x="789.8" y="697.2" text-anchor="end" class="t">125</text>
<path d="M800.0 634.1h-4.7" stroke="#000" stroke-width="0.9"/>
<text x="789.8" y="643.4" text-anchor="end" class="t">150</text>
<path d="M800.0 580.4h-4.7" stroke="#000" stroke-width="0.9"/>
<text x="789.8" y="589.7" text-anchor="end" class="t">175</text>
<path d="M800.0 526.7h-4.7" stroke="#000" stroke-width="0.9"/>
<text x="789.8" y="536.0" text-anchor="end" class="t">200</text>
<text x="1005.5" y="992.4" text-anchor="middle" class="t">Wavelength (nm)</text>
<text transform="translate(734.9 730.9) rotate(-90)" text-anchor="middle" class="t">Dielectric thickness (nm)</text>
<rect x="1213.7" y="546.0" width="21.1" height="389.0" fill="url(#cbge)"/>
<path d="M1213.7 546.3L1224.2 526.3L1234.8 546.3Z" fill="#fcffa4"/>
<path d="M1213.7 935.0L1213.7 546.0L1224.2 526.3L1234.8 546.0L1234.8 935.0Z" fill="none" stroke="#000" stroke-width="0.9" stroke-linejoin="miter"/>
<path d="M1234.8 935.0h4.7" stroke="#000" stroke-width="0.9"/>
<text x="1245.0" y="943.3" class="t">−2.4</text>
<path d="M1234.8 870.2h4.7" stroke="#000" stroke-width="0.9"/>
<text x="1245.0" y="878.5" class="t">−1.6</text>
<path d="M1234.8 805.3h4.7" stroke="#000" stroke-width="0.9"/>
<text x="1245.0" y="813.6" class="t">−0.8</text>
<path d="M1234.8 740.5h4.7" stroke="#000" stroke-width="0.9"/>
<text x="1245.0" y="748.8" class="t">0.0</text>
<path d="M1234.8 675.7h4.7" stroke="#000" stroke-width="0.9"/>
<text x="1245.0" y="684.0" class="t">0.8</text>
<path d="M1234.8 610.9h4.7" stroke="#000" stroke-width="0.9"/>
<text x="1245.0" y="619.1" class="t">1.6</text>
<path d="M1234.8 546.0h4.7" stroke="#000" stroke-width="0.9"/>
<text x="1245.0" y="554.3" class="t">2.4</text>
<text transform="translate(1316.7 742.3) rotate(90)" text-anchor="middle" class="t">β (10<tspan class="sup" dy="-8.5">−4</tspan><tspan dy="8.5"> cm/W)</tspan></text>
<g clip-path="url(#cpf)"><g filter="url(#cmf)">
<rect x="1457.4" y="524.5" width="415.4" height="412.5" fill="#808080"/>
<rect x="1457.4" y="524.5" width="16.0" height="412.5" fill="url(#lg48)"/>
<g filter="url(#blf6)"><path d="M1447.4 880.0L1462.4 880.0L1469.4 905.0L1473.4 950.0L1447.4 950.0Z" fill="#fff" fill-opacity="0.550"/></g>
<g filter="url(#blf4_5)"><path d="M1913.8 515.0C1912.6 516.0 1909.6 518.7 1906.7 521.3C1903.8 523.9 1899.9 527.3 1896.4 530.4C1893.0 533.5 1889.3 536.8 1885.8 540.0C1882.3 543.2 1878.9 546.3 1875.4 549.6C1871.8 552.9 1868.1 556.4 1864.6 559.8C1861.0 563.2 1857.4 566.6 1853.9 570.0C1850.4 573.4 1847.0 576.7 1843.6 580.0C1840.2 583.3 1836.8 586.7 1833.5 590.0C1830.1 593.3 1826.8 596.7 1823.5 600.0C1820.2 603.3 1816.9 606.7 1813.6 610.0C1810.3 613.3 1807.1 616.7 1803.9 620.0C1800.6 623.3 1797.4 626.7 1794.2 630.0C1791.0 633.3 1787.8 636.7 1784.6 640.0C1781.4 643.3 1778.2 646.7 1775.0 650.0C1771.9 653.3 1768.7 656.7 1765.5 660.0C1762.4 663.3 1759.2 666.7 1756.1 670.0C1752.9 673.3 1749.8 676.7 1746.6 680.0C1743.5 683.3 1740.3 686.7 1737.2 690.0C1734.0 693.3 1730.8 696.7 1727.7 700.0C1724.5 703.3 1721.4 706.7 1718.2 710.0C1715.0 713.3 1711.8 716.7 1708.6 720.0C1705.5 723.3 1702.2 726.7 1699.0 730.0C1695.8 733.3 1692.6 736.7 1689.4 740.0C1686.1 743.3 1682.9 746.7 1679.6 750.0C1676.3 753.3 1673.0 756.7 1669.7 760.0C1666.3 763.3 1663.0 766.7 1659.6 770.0C1656.3 773.3 1652.9 776.7 1649.5 780.0C1646.2 783.3 1642.8 786.7 1639.4 790.0C1636.0 793.3 1632.5 796.7 1629.1 800.0C1625.7 803.3 1622.3 806.7 1618.9 810.0C1615.5 813.3 1612.1 816.7 1608.7 820.0C1605.3 823.3 1601.9 826.7 1598.5 830.0C1595.1 833.3 1591.8 836.6 1588.4 840.0C1585.0 843.4 1581.5 846.8 1578.0 850.2C1574.6 853.6 1571.0 857.1 1567.7 860.4C1564.3 863.7 1561.1 866.9 1557.9 870.0C1554.7 873.1 1551.7 876.0 1548.7 878.9C1545.7 881.8 1542.8 884.6 1540.1 887.3C1537.4 890.0 1534.8 892.5 1532.5 895.0C1530.2 897.5 1528.2 899.9 1526.3 902.1C1524.4 904.4 1522.8 906.6 1521.1 908.6C1519.4 910.6 1517.8 912.5 1516.1 914.1C1514.4 915.7 1512.6 917.1 1510.9 918.4C1509.2 919.6 1507.5 920.6 1505.8 921.7C1504.2 922.8 1502.6 923.8 1501.0 924.9C1499.4 926.0 1498.0 927.1 1496.5 928.2C1495.1 929.3 1493.7 930.3 1492.3 931.4C1490.9 932.4 1489.6 933.4 1488.1 934.5C1486.6 935.6 1485.0 936.9 1483.4 938.0C1481.9 939.2 1480.1 940.5 1478.8 941.5C1477.5 942.5 1476.1 943.6 1475.6 944.0" fill="none" stroke="url(#lg49)" stroke-width="12.0"/></g>
<g filter="url(#blf36)"><path d="M1728.2 778.9C1726.6 780.6 1721.8 785.6 1718.5 788.9C1715.2 792.2 1711.9 795.6 1708.6 798.9C1705.2 802.2 1701.9 805.6 1698.5 808.9C1695.2 812.2 1691.8 815.6 1688.4 818.9C1685.1 822.2 1681.7 825.6 1678.2 828.9C1674.8 832.2 1671.4 835.6 1668.0 838.9C1664.6 842.2 1661.2 845.6 1657.8 848.9C1654.4 852.2 1651.0 855.6 1647.6 858.9C1644.2 862.2 1640.8 865.6 1637.4 868.9C1634.0 872.2 1630.7 875.5 1627.3 878.9C1623.9 882.3 1620.4 885.7 1616.9 889.1C1613.5 892.5 1609.9 896.0 1606.6 899.3C1603.2 902.6 1599.9 905.8 1596.8 908.9C1593.6 912.0 1590.6 914.9 1587.6 917.8C1584.6 920.7 1581.7 923.5 1579.0 926.2C1576.3 928.9 1573.7 931.4 1571.4 933.9C1569.1 936.4 1567.1 938.7 1565.2 941.0C1563.3 943.3 1561.7 945.5 1560.0 947.5C1558.3 949.5 1556.7 951.4 1555.0 953.0C1553.3 954.6 1551.5 956.0 1549.8 957.2C1548.1 958.5 1546.4 959.5 1544.7 960.6C1543.1 961.7 1541.4 962.7 1539.9 963.8C1538.3 964.9 1536.9 966.0 1535.4 967.1C1534.0 968.2 1532.6 969.2 1531.2 970.2C1529.8 971.3 1528.5 972.3 1527.0 973.4C1525.5 974.5 1523.9 975.7 1522.3 976.9C1520.8 978.1 1519.0 979.4 1517.7 980.4C1516.4 981.4 1515.0 982.5 1514.5 982.9" fill="none" stroke="url(#lg50)" stroke-width="120.0"/></g>
<g filter="url(#blf16)"><path d="M1707.7 758.4C1706.1 760.1 1701.2 765.1 1698.0 768.4C1694.7 771.7 1691.4 775.1 1688.0 778.4C1684.7 781.7 1681.4 785.1 1678.0 788.4C1674.7 791.7 1671.3 795.1 1667.9 798.4C1664.5 801.7 1661.2 805.1 1657.7 808.4C1654.3 811.7 1650.9 815.1 1647.5 818.4C1644.1 821.7 1640.7 825.1 1637.3 828.4C1633.8 831.7 1630.5 835.1 1627.1 838.4C1623.7 841.7 1620.3 845.1 1616.9 848.4C1613.5 851.7 1610.2 855.0 1606.8 858.4C1603.3 861.7 1599.9 865.2 1596.4 868.6C1593.0 872.0 1589.4 875.5 1586.1 878.8C1582.7 882.1 1579.4 885.3 1576.3 888.4C1573.1 891.5 1570.1 894.4 1567.1 897.3C1564.1 900.2 1561.2 903.0 1558.5 905.7C1555.8 908.4 1553.2 910.9 1550.9 913.4C1548.6 915.9 1546.6 918.2 1544.7 920.5C1542.8 922.8 1541.2 925.0 1539.5 927.0C1537.8 928.9 1536.2 930.9 1534.5 932.5C1532.8 934.1 1531.0 935.5 1529.3 936.7C1527.6 938.0 1525.9 939.0 1524.2 940.1C1522.6 941.2 1520.9 942.2 1519.4 943.3C1517.8 944.4 1516.4 945.5 1514.9 946.6C1513.5 947.7 1512.1 948.7 1510.7 949.7C1509.3 950.8 1508.0 951.8 1506.5 952.9C1505.0 954.0 1503.4 955.2 1501.8 956.4C1500.3 957.6 1498.5 958.9 1497.2 959.9C1495.9 960.9 1494.5 962.0 1494.0 962.4" fill="none" stroke="url(#lg51)" stroke-width="48.0"/></g>
<g filter="url(#blf6)"><path d="M1695.7 746.4C1694.1 748.0 1689.2 753.0 1685.9 756.4C1682.7 759.7 1679.3 763.0 1676.0 766.4C1672.7 769.7 1669.4 773.0 1666.0 776.4C1662.6 779.7 1659.3 783.0 1655.9 786.4C1652.5 789.7 1649.1 793.0 1645.7 796.4C1642.3 799.7 1638.9 803.0 1635.5 806.4C1632.1 809.7 1628.6 813.0 1625.2 816.4C1621.8 819.7 1618.4 823.0 1615.1 826.4C1611.7 829.7 1608.3 833.0 1604.9 836.4C1601.5 839.7 1598.2 843.0 1594.7 846.4C1591.3 849.7 1587.8 853.2 1584.4 856.5C1580.9 859.9 1577.4 863.4 1574.0 866.7C1570.7 870.0 1567.4 873.3 1564.3 876.4C1561.1 879.5 1558.0 882.4 1555.1 885.3C1552.1 888.2 1549.2 891.0 1546.5 893.7C1543.8 896.3 1541.1 898.9 1538.9 901.4C1536.6 903.8 1534.6 906.2 1532.7 908.5C1530.8 910.7 1529.2 912.9 1527.5 914.9C1525.8 916.9 1524.2 918.8 1522.5 920.5C1520.8 922.1 1519.0 923.5 1517.3 924.7C1515.5 926.0 1513.8 927.0 1512.2 928.1C1510.5 929.2 1508.9 930.2 1507.4 931.3C1505.8 932.3 1504.3 933.5 1502.9 934.6C1501.4 935.6 1500.1 936.7 1498.7 937.7C1497.2 938.8 1495.9 939.8 1494.5 940.9C1493.0 942.0 1491.4 943.2 1489.8 944.4C1488.3 945.6 1486.5 946.9 1485.2 947.9C1483.9 948.9 1482.5 950.0 1482.0 950.4" fill="none" stroke="url(#lg52)" stroke-width="16.0"/></g>
<g filter="url(#blf3_5)"><path d="M1544.3 891.5C1543.1 892.8 1539.0 896.8 1536.7 899.2C1534.4 901.7 1532.4 904.1 1530.6 906.4C1528.7 908.6 1527.1 910.8 1525.4 912.8C1523.7 914.8 1522.0 916.7 1520.3 918.3C1518.6 920.0 1516.8 921.3 1515.1 922.6C1513.4 923.9 1511.7 924.8 1510.1 925.9C1508.4 927.0 1506.8 928.1 1505.2 929.1C1503.7 930.2 1502.2 931.4 1500.8 932.4C1499.3 933.5 1497.9 934.5 1496.5 935.6C1495.1 936.6 1493.8 937.6 1492.3 938.7C1490.9 939.9 1489.2 941.1 1487.7 942.3C1486.1 943.4 1484.4 944.8 1483.1 945.8C1481.8 946.8 1480.4 947.8 1479.8 948.2" fill="none" stroke="url(#lg53)" stroke-width="8.0"/></g>
<g filter="url(#blf12)"><path d="M1800.8 496.5L1900.8 496.5L1913.8 515.0L1906.7 521.3L1896.4 530.4L1885.8 540.0L1875.4 549.6L1864.6 559.8L1853.9 570.0L1843.6 580.0L1833.5 590.0L1823.5 600.0L1813.6 610.0L1803.9 620.0L1794.2 630.0L1784.6 640.0L1775.0 650.0L1765.5 660.0L1756.1 670.0L1746.6 680.0L1737.2 690.0L1727.7 700.0L1718.2 710.0L1708.6 720.0L1699.0 730.0L1689.4 740.0L1679.6 750.0L1669.7 760.0L1659.6 770.0L1649.5 780.0L1639.4 790.0L1629.1 800.0L1640.0 800.0Z" fill="#fff" fill-opacity="0.070"/></g>
<g filter="url(#blf14)"><path d="M1896.8 498.0C1895.6 499.1 1892.6 501.8 1889.7 504.3C1886.8 506.9 1883.0 510.3 1879.5 513.4C1876.0 516.5 1872.3 519.8 1868.8 523.0C1865.3 526.2 1861.9 529.4 1858.4 532.7C1854.9 536.0 1851.2 539.4 1847.6 542.8C1844.0 546.2 1840.4 549.7 1836.9 553.0C1833.4 556.4 1830.0 559.7 1826.6 563.0C1823.2 566.4 1819.9 569.7 1816.5 573.0C1813.2 576.4 1809.8 579.7 1806.5 583.0C1803.2 586.4 1799.9 589.7 1796.6 593.0C1793.4 596.4 1790.1 599.7 1786.9 603.0C1783.6 606.4 1780.4 609.7 1777.2 613.0C1774.0 616.4 1770.8 619.7 1767.6 623.0C1764.4 626.4 1761.2 629.7 1758.1 633.0C1754.9 636.4 1751.7 639.7 1748.6 643.0C1745.4 646.4 1742.2 649.7 1739.1 653.0C1735.9 656.4 1732.8 659.7 1729.6 663.0C1726.5 666.4 1723.3 669.7 1720.2 673.0C1717.0 676.4 1713.9 679.7 1710.7 683.0C1707.6 686.4 1704.4 689.7 1701.2 693.0C1698.1 696.4 1694.9 699.7 1691.7 703.0C1688.5 706.4 1685.3 709.7 1682.1 713.0C1678.8 716.4 1675.6 719.7 1672.4 723.0C1669.1 726.4 1665.9 729.7 1662.6 733.0C1659.3 736.4 1656.0 739.7 1652.7 743.0C1649.4 746.4 1646.0 749.7 1642.7 753.0C1639.3 756.4 1636.0 759.7 1632.6 763.0C1629.2 766.4 1625.8 769.7 1622.4 773.0C1619.0 776.4 1613.8 781.4 1612.1 783.0" fill="none" stroke="url(#lg54)" stroke-width="44.0"/></g>
<g filter="url(#blf6)"><path d="M1907.4 508.6C1906.2 509.7 1903.2 512.4 1900.3 514.9C1897.4 517.5 1893.6 520.9 1890.1 524.0C1886.6 527.1 1882.9 530.4 1879.4 533.6C1875.9 536.8 1872.6 540.0 1869.0 543.3C1865.5 546.6 1861.8 550.1 1858.2 553.5C1854.6 556.8 1851.0 560.3 1847.5 563.6C1844.0 567.0 1840.6 570.3 1837.2 573.6C1833.8 577.0 1830.5 580.3 1827.1 583.6C1823.8 587.0 1820.4 590.3 1817.1 593.6C1813.8 597.0 1810.5 600.3 1807.2 603.6C1804.0 607.0 1800.7 610.3 1797.5 613.6C1794.3 617.0 1791.0 620.3 1787.8 623.6C1784.6 627.0 1781.4 630.3 1778.2 633.6C1775.0 637.0 1771.8 640.3 1768.7 643.6C1765.5 647.0 1762.3 650.3 1759.2 653.6C1756.0 657.0 1752.9 660.3 1749.7 663.6C1746.5 667.0 1743.4 670.3 1740.3 673.6C1737.1 677.0 1734.0 680.3 1730.8 683.6C1727.6 687.0 1724.5 690.3 1721.3 693.6C1718.2 697.0 1715.0 700.3 1711.8 703.6C1708.7 707.0 1705.5 710.3 1702.3 713.6C1699.1 717.0 1695.9 720.3 1692.7 723.6C1689.5 727.0 1686.2 730.3 1683.0 733.6C1679.8 737.0 1676.5 740.3 1673.2 743.6C1669.9 747.0 1666.6 750.3 1663.3 753.6C1660.0 757.0 1656.6 760.3 1653.3 763.6C1649.9 767.0 1646.6 770.3 1643.2 773.6C1639.8 777.0 1636.4 780.3 1633.0 783.6C1629.6 787.0 1624.4 792.0 1622.7 793.6" fill="none" stroke="url(#lg55)" stroke-width="16.0"/></g>
</g></g>
<path clip-path="url(#clf)" d="M1913.8 515.0C1909.1 519.2 1895.8 530.8 1885.8 540.0C1875.8 549.2 1864.3 560.0 1853.9 570.0C1843.5 580.0 1833.4 590.0 1823.5 600.0C1813.5 610.0 1803.8 620.0 1794.2 630.0C1784.5 640.0 1775.0 650.0 1765.5 660.0C1756.0 670.0 1746.6 680.0 1737.2 690.0C1727.7 700.0 1718.2 710.0 1708.6 720.0C1699.0 730.0 1689.4 740.0 1679.6 750.0C1669.7 760.0 1659.7 770.0 1649.5 780.0C1639.4 790.0 1629.1 800.0 1618.9 810.0C1608.7 820.0 1598.5 830.0 1588.4 840.0C1578.2 850.0 1567.2 860.8 1557.9 870.0C1548.6 879.2 1539.5 887.6 1532.5 895.0C1525.5 902.4 1521.3 909.1 1516.1 914.1C1510.9 919.1 1505.7 921.5 1501.0 924.9C1496.3 928.3 1492.3 931.3 1488.1 934.5C1483.9 937.7 1477.7 942.4 1475.6 944.0" fill="none" stroke="#269426" stroke-width="5.2"/>
<rect x="1459.4" y="526.5" width="411.4" height="408.5" fill="none" stroke="#000" stroke-width="0.9"/>
<path d="M1459.4 935.0v4.7" stroke="#000" stroke-width="0.9"/>
<text x="1459.4" y="962.8" text-anchor="middle" class="t">300</text>
<path d="M1518.2 935.0v4.7" stroke="#000" stroke-width="0.9"/>
<text x="1518.2" y="962.8" text-anchor="middle" class="t">400</text>
<path d="M1576.9 935.0v4.7" stroke="#000" stroke-width="0.9"/>
<text x="1576.9" y="962.8" text-anchor="middle" class="t">500</text>
<path d="M1635.7 935.0v4.7" stroke="#000" stroke-width="0.9"/>
<text x="1635.7" y="962.8" text-anchor="middle" class="t">600</text>
<path d="M1694.5 935.0v4.7" stroke="#000" stroke-width="0.9"/>
<text x="1694.5" y="962.8" text-anchor="middle" class="t">700</text>
<path d="M1753.3 935.0v4.7" stroke="#000" stroke-width="0.9"/>
<text x="1753.3" y="962.8" text-anchor="middle" class="t">800</text>
<path d="M1812.0 935.0v4.7" stroke="#000" stroke-width="0.9"/>
<text x="1812.0" y="962.8" text-anchor="middle" class="t">900</text>
<path d="M1870.8 935.0v4.7" stroke="#000" stroke-width="0.9"/>
<text x="1870.8" y="962.8" text-anchor="middle" class="t">1000</text>
<path d="M1459.4 902.8h-4.7" stroke="#000" stroke-width="0.9"/>
<text x="1449.2" y="912.0" text-anchor="end" class="t">25</text>
<path d="M1459.4 849.0h-4.7" stroke="#000" stroke-width="0.9"/>
<text x="1449.2" y="858.3" text-anchor="end" class="t">50</text>
<path d="M1459.4 795.2h-4.7" stroke="#000" stroke-width="0.9"/>
<text x="1449.2" y="804.5" text-anchor="end" class="t">75</text>
<path d="M1459.4 741.5h-4.7" stroke="#000" stroke-width="0.9"/>
<text x="1449.2" y="750.8" text-anchor="end" class="t">100</text>
<path d="M1459.4 687.8h-4.7" stroke="#000" stroke-width="0.9"/>
<text x="1449.2" y="697.0" text-anchor="end" class="t">125</text>
<path d="M1459.4 634.0h-4.7" stroke="#000" stroke-width="0.9"/>
<text x="1449.2" y="643.3" text-anchor="end" class="t">150</text>
<path d="M1459.4 580.2h-4.7" stroke="#000" stroke-width="0.9"/>
<text x="1449.2" y="589.5" text-anchor="end" class="t">175</text>
<path d="M1459.4 526.5h-4.7" stroke="#000" stroke-width="0.9"/>
<text x="1449.2" y="535.8" text-anchor="end" class="t">200</text>
<text x="1665.1" y="992.4" text-anchor="middle" class="t">Wavelength (nm)</text>
<text transform="translate(1394.3 730.8) rotate(-90)" text-anchor="middle" class="t">Dielectric thickness (nm)</text>
<rect x="1873.5" y="526.6" width="20.9" height="408.4" fill="url(#cbgf)"/>
<path d="M1873.5 935.0L1873.5 526.6L1894.4 526.6L1894.4 935.0Z" fill="none" stroke="#000" stroke-width="0.9" stroke-linejoin="miter"/>
<path d="M1894.4 935.0h4.7" stroke="#000" stroke-width="0.9"/>
<text x="1904.6" y="943.3" class="t">0.0</text>
<path d="M1894.4 832.9h4.7" stroke="#000" stroke-width="0.9"/>
<text x="1904.6" y="841.2" class="t">0.8</text>
<path d="M1894.4 730.8h4.7" stroke="#000" stroke-width="0.9"/>
<text x="1904.6" y="739.1" class="t">1.6</text>
<path d="M1894.4 628.7h4.7" stroke="#000" stroke-width="0.9"/>
<text x="1904.6" y="637.0" class="t">2.4</text>
<path d="M1894.4 526.6h4.7" stroke="#000" stroke-width="0.9"/>
<text x="1904.6" y="534.9" class="t">3.2</text>
<text transform="translate(1957.1 731.5) rotate(90)" text-anchor="middle" class="t">n<tspan class="sup" dy="3.5">2</tspan><tspan dy="-3.5"> (10</tspan><tspan class="sup" dy="-8.5">−9</tspan><tspan dy="8.5"> cm</tspan><tspan class="sup" dy="-8.5">2</tspan><tspan dy="8.5">/W)</tspan></text>
<g clip-path="url(#cpbi)"><g filter="url(#cmbi)">
<rect x="1012.6" y="31.6" width="141.1" height="140.4" fill="#808080"/>
<g filter="url(#blbi2_5)"><path d="M994.6 13.6L1135.8 22.7L1126.9 33.6L1099.2 67.7L1073.5 101.8L1050.2 135.9L1029.0 170.0L1018.5 186.4L994.6 190.0Z" fill="#fff" fill-opacity="0.300"/></g>
<g filter="url(#blbi7)"><path d="M999.6 18.6L1038.0 18.6L1050.0 60.0L1050.0 92.0L1034.0 112.0L999.6 114.0Z" fill="#fff" fill-opacity="0.300"/></g>
<g filter="url(#blbi5)"><path d="M1007.5 184.4C1009.2 181.6 1012.7 176.4 1018.0 168.0C1023.3 159.6 1031.8 145.3 1039.2 133.9C1046.6 122.5 1054.4 111.2 1062.5 99.8C1070.7 88.4 1079.3 77.1 1088.2 65.7C1097.1 54.3 1109.8 39.1 1115.9 31.6C1121.9 24.1 1123.3 22.5 1124.8 20.7" fill="none" stroke="url(#lg56)" stroke-width="12.0"/></g>
<g filter="url(#blbi6)"><path d="M1024.5 187.4C1026.2 184.6 1029.7 179.4 1035.0 171.0C1040.3 162.6 1048.8 148.3 1056.2 136.9C1063.6 125.5 1071.4 114.2 1079.5 102.8C1087.7 91.4 1096.3 80.1 1105.2 68.7C1114.1 57.3 1126.8 42.1 1132.9 34.6C1138.9 27.1 1140.3 25.5 1141.8 23.7" fill="none" stroke="url(#lg57)" stroke-width="14.0"/></g>
<g filter="url(#blbi2_5)"><path d="M1000.0 108.0L1030.0 110.0L1050.0 109.0L1060.0 106.5L1064.0 116.0L1054.0 140.0L1040.0 180.0L1000.0 180.0Z" fill="#fff" fill-opacity="1.000"/></g>
</g></g>
<path clip-path="url(#clbi)" d="M1017.5 186.4C1019.2 183.6 1022.7 178.4 1028.0 170.0C1033.3 161.6 1041.8 147.3 1049.2 135.9C1056.6 124.5 1064.4 113.2 1072.5 101.8C1080.7 90.4 1089.3 79.1 1098.2 67.7C1107.1 56.3 1119.8 41.1 1125.9 33.6C1131.9 26.1 1133.3 24.5 1134.8 22.7" fill="none" stroke="#269426" stroke-width="2.2"/>
<rect x="1014.6" y="33.6" width="137.1" height="136.4" fill="none" stroke="#000" stroke-width="0.9"/>
<path d="M1014.6 170.0v3.6" stroke="#000" stroke-width="0.9"/>
<text x="1014.6" y="193.0" text-anchor="middle" class="s">570</text>
<path d="M1083.2 170.0v3.6" stroke="#000" stroke-width="0.9"/>
<text x="1083.2" y="193.0" text-anchor="middle" class="s">670</text>
<path d="M1151.7 170.0v3.6" stroke="#000" stroke-width="0.9"/>
<text x="1151.7" y="193.0" text-anchor="middle" class="s">770</text>
<path d="M1014.6 33.6h-3.6" stroke="#000" stroke-width="0.9"/>
<text x="1005.4" y="40.4" text-anchor="end" class="s">100</text>
<path d="M1014.6 101.8h-3.6" stroke="#000" stroke-width="0.9"/>
<text x="1005.4" y="108.6" text-anchor="end" class="s">75</text>
<path d="M1014.6 170.0h-3.6" stroke="#000" stroke-width="0.9"/>
<text x="1005.4" y="176.8" text-anchor="end" class="s">50</text>
<rect x="1154.8" y="40.0" width="7.0" height="130.0" fill="url(#icbbi)"/>
<path d="M1154.8 40.3L1158.3 33.6L1161.8 40.3Z" fill="#fcffa4"/>
<path d="M1154.8 170.0L1154.8 40.0L1158.3 33.6L1161.8 40.0L1161.8 170.0Z" fill="none" stroke="#000" stroke-width="0.9"/>
<path d="M1161.8 170.0h3.6" stroke="#000" stroke-width="0.9"/>
<text x="1170.1" y="176.8" class="s">0.0</text>
<path d="M1161.8 105.0h3.6" stroke="#000" stroke-width="0.9"/>
<text x="1170.1" y="111.8" class="s">0.3</text>
<path d="M1161.8 40.0h3.6" stroke="#000" stroke-width="0.9"/>
<text x="1170.1" y="46.8" class="s">0.6</text>
<g clip-path="url(#cpci)"><g filter="url(#cmci)">
<rect x="1668.4" y="28.8" width="142.7" height="140.5" fill="#808080"/>
<rect x="1745.4" y="25.8" width="80.0" height="150.0" fill="url(#lg58)"/>
<g filter="url(#blci13)"><path d="M1689.3 185.7C1691.1 183.0 1694.6 177.7 1699.9 169.3C1705.3 160.9 1713.9 146.6 1721.4 135.2C1728.9 123.8 1736.7 112.4 1745.0 101.0C1753.3 89.7 1762.0 78.3 1771.0 66.9C1780.0 55.5 1792.8 40.3 1799.0 32.8C1805.1 25.3 1806.5 23.7 1808.0 21.9" fill="none" stroke="url(#lg59)" stroke-width="46.0"/></g>
<g filter="url(#blci6)"><path d="M1682.3 185.7C1684.1 183.0 1687.6 177.7 1692.9 169.3C1698.3 160.9 1706.9 146.6 1714.4 135.2C1721.9 123.8 1729.7 112.4 1738.0 101.0C1746.3 89.7 1755.0 78.3 1764.0 66.9C1773.0 55.5 1785.8 40.3 1792.0 32.8C1798.1 25.3 1799.5 23.7 1801.0 21.9" fill="none" stroke="url(#lg60)" stroke-width="18.0"/><path d="M1662.3 181.7C1664.1 179.0 1667.6 173.7 1672.9 165.3C1678.3 156.9 1686.9 142.6 1694.4 131.2C1701.9 119.8 1709.7 108.4 1718.0 97.0C1726.3 85.7 1735.0 74.3 1744.0 62.9C1753.0 51.5 1765.8 36.3 1772.0 28.8C1778.1 21.3 1779.5 19.7 1781.0 17.9" fill="none" stroke="url(#lg61)" stroke-width="16.0"/></g>
<g filter="url(#blci3)"><path d="M1660.0 152.3L1695.2 141.5L1716.6 130.8L1719.2 144.7L1714.8 175.0L1660.0 175.0Z" fill="#fff" fill-opacity="1.000"/></g>
</g></g>
<path clip-path="url(#clci)" d="M1673.3 183.7C1675.1 181.0 1678.6 175.7 1683.9 167.3C1689.3 158.9 1697.9 144.6 1705.4 133.2C1712.9 121.8 1720.7 110.4 1729.0 99.0C1737.3 87.7 1746.0 76.3 1755.0 64.9C1764.0 53.5 1776.8 38.3 1783.0 30.8C1789.1 23.3 1790.5 21.7 1792.0 19.9" fill="none" stroke="#269426" stroke-width="2.2"/>
<rect x="1670.4" y="30.8" width="138.7" height="136.5" fill="none" stroke="#000" stroke-width="0.9"/>
<path d="M1670.4 167.3v3.6" stroke="#000" stroke-width="0.9"/>
<text x="1670.4" y="190.3" text-anchor="middle" class="s">570</text>
<path d="M1739.8 167.3v3.6" stroke="#000" stroke-width="0.9"/>
<text x="1739.8" y="190.3" text-anchor="middle" class="s">670</text>
<path d="M1809.1 167.3v3.6" stroke="#000" stroke-width="0.9"/>
<text x="1809.1" y="190.3" text-anchor="middle" class="s">770</text>
<path d="M1670.4 30.8h-3.6" stroke="#000" stroke-width="0.9"/>
<text x="1661.2" y="37.6" text-anchor="end" class="s">100</text>
<path d="M1670.4 99.0h-3.6" stroke="#000" stroke-width="0.9"/>
<text x="1661.2" y="105.8" text-anchor="end" class="s">75</text>
<path d="M1670.4 167.3h-3.6" stroke="#000" stroke-width="0.9"/>
<text x="1661.2" y="174.1" text-anchor="end" class="s">50</text>
<rect x="1811.6" y="37.2" width="7.6" height="130.1" fill="url(#icbci)"/>
<path d="M1811.6 37.5L1815.4 30.8L1819.2 37.5Z" fill="#fcffa4"/>
<path d="M1811.6 167.3L1811.6 37.2L1815.4 30.8L1819.2 37.2L1819.2 167.3Z" fill="none" stroke="#000" stroke-width="0.9"/>
<path d="M1819.2 167.3h3.6" stroke="#000" stroke-width="0.9"/>
<text x="1827.5" y="174.1" class="s">0.0</text>
<path d="M1819.2 102.8h3.6" stroke="#000" stroke-width="0.9"/>
<text x="1827.5" y="109.6" class="s">0.2</text>
<path d="M1819.2 37.2h3.6" stroke="#000" stroke-width="0.9"/>
<text x="1827.5" y="44.0" class="s">0.4</text>
<g>
<text x="377.4" y="286.4" text-anchor="middle" class="st">*</text>
<text x="395.9" y="294.7" class="b" font-size="25" textLength="89.5" lengthAdjust="spacingAndGlyphs">(15/85)</text>
</g>
<text x="559.0" y="397.0" text-anchor="end" class="b" font-size="41.5">(a)</text>
<g filter="url(#sh)">
<text x="1023.2" y="289.7" text-anchor="middle" class="st">*</text>
<text x="1041.7" y="298.0" class="b" font-size="25" textLength="89.5" lengthAdjust="spacingAndGlyphs">(15/85)</text>
</g>
<text x="1202.3" y="397.0" text-anchor="end" class="b" font-size="41.5">(b)</text>
<g filter="url(#sh)">
<text x="1679.7" y="290.7" text-anchor="middle" class="st">*</text>
<text x="1698.2" y="299.0" class="b" font-size="25" textLength="89.5" lengthAdjust="spacingAndGlyphs">(15/85)</text>
</g>
<text x="1858.5" y="397.0" text-anchor="end" class="b" font-size="41.5">(c)</text>
<g>
<text x="351.0" y="798.0" text-anchor="middle" class="st">*</text>
<text x="369.5" y="806.3" class="b" font-size="25" textLength="89.5" lengthAdjust="spacingAndGlyphs">(15/85)</text>
</g>
<text x="559.3" y="912.0" text-anchor="end" class="b" font-size="41.5">(d)</text>
<g filter="url(#sh)">
<text x="995.2" y="799.7" text-anchor="middle" class="st">*</text>
<text x="1013.7" y="808.0" class="b" font-size="25" textLength="89.5" lengthAdjust="spacingAndGlyphs">(15/85)</text>
</g>
<text x="1202.3" y="912.0" text-anchor="end" class="b" font-size="41.5">(e)</text>
<g filter="url(#sh)">
<text x="1653.2" y="800.4" text-anchor="middle" class="st">*</text>
<text x="1671.7" y="808.7" class="b" font-size="25" textLength="89.5" lengthAdjust="spacingAndGlyphs">(15/85)</text>
</g>
<text x="1858.5" y="912.0" text-anchor="end" class="b" font-size="41.5">(f)</text>
<text transform="translate(30.2 216.0) rotate(-90)" text-anchor="middle" class="r" font-size="33">Au/Al<tspan font-size="20.5" dy="7.5">2</tspan><tspan dy="-7.5">O</tspan><tspan font-size="20.5" dy="7.5">3</tspan></text>
<text transform="translate(30.2 732.5) rotate(-90)" text-anchor="middle" class="r" font-size="32">Ag/Al<tspan font-size="20.5" dy="7.5">2</tspan><tspan dy="-7.5">O</tspan><tspan font-size="20.5" dy="7.5">3</tspan></text>
</svg>
</body></html>
